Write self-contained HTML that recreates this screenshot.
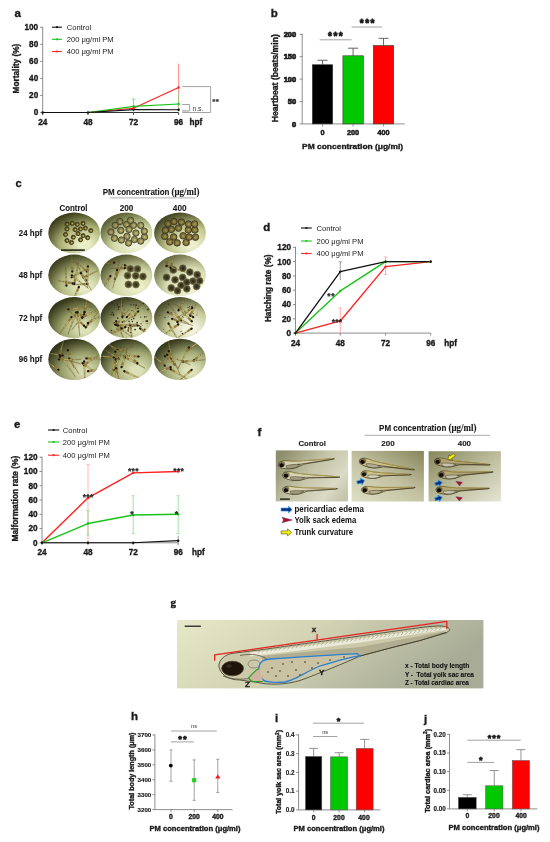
<!DOCTYPE html>
<html><head><meta charset="utf-8"><title>Figure</title>
<style>
html,body{margin:0;padding:0;background:#fff;}
body{width:550px;height:842px;overflow:hidden;}
svg{display:block;}
</style></head>
<body>
<svg width="550" height="842" viewBox="0 0 550 842">
<defs>
<radialGradient id="dg00" cx="0.66" cy="0.74" r="0.82" fx="0.7" fy="0.78"><stop offset="0" stop-color="#eaefc8"/><stop offset="0.12" stop-color="#eaefc8"/><stop offset="0.52" stop-color="#b0b678"/><stop offset="0.92" stop-color="#464a20"/></radialGradient>
<clipPath id="dc00"><ellipse cx="74.2" cy="232.9" rx="25.9" ry="20.3"/></clipPath>
<radialGradient id="dg01" cx="0.66" cy="0.74" r="0.82" fx="0.7" fy="0.78"><stop offset="0" stop-color="#eff2d4"/><stop offset="0.12" stop-color="#eff2d4"/><stop offset="0.52" stop-color="#d4daa8"/><stop offset="0.92" stop-color="#767c48"/></radialGradient>
<clipPath id="dc01"><ellipse cx="126.4" cy="232.9" rx="25.9" ry="20.3"/></clipPath>
<radialGradient id="dg02" cx="0.66" cy="0.74" r="0.82" fx="0.7" fy="0.78"><stop offset="0" stop-color="#edf0cc"/><stop offset="0.12" stop-color="#edf0cc"/><stop offset="0.52" stop-color="#c2c88e"/><stop offset="0.92" stop-color="#54582c"/></radialGradient>
<clipPath id="dc02"><ellipse cx="180.0" cy="232.9" rx="25.9" ry="20.3"/></clipPath>
<radialGradient id="dg10" cx="0.66" cy="0.74" r="0.82" fx="0.7" fy="0.78"><stop offset="0" stop-color="#e8ecc6"/><stop offset="0.12" stop-color="#e8ecc6"/><stop offset="0.52" stop-color="#b4ba80"/><stop offset="0.92" stop-color="#4a4e28"/></radialGradient>
<clipPath id="dc10"><ellipse cx="74.2" cy="275.3" rx="25.9" ry="20.7"/></clipPath>
<radialGradient id="dg11" cx="0.66" cy="0.74" r="0.82" fx="0.7" fy="0.78"><stop offset="0" stop-color="#eceec8"/><stop offset="0.12" stop-color="#eceec8"/><stop offset="0.52" stop-color="#ced4a2"/><stop offset="0.92" stop-color="#6a6e40"/></radialGradient>
<clipPath id="dc11"><ellipse cx="126.4" cy="275.3" rx="25.9" ry="20.7"/></clipPath>
<radialGradient id="dg12" cx="0.66" cy="0.74" r="0.82" fx="0.7" fy="0.78"><stop offset="0" stop-color="#f0f2d8"/><stop offset="0.12" stop-color="#f0f2d8"/><stop offset="0.52" stop-color="#dadeb4"/><stop offset="0.92" stop-color="#8a8e60"/></radialGradient>
<clipPath id="dc12"><ellipse cx="180.0" cy="275.3" rx="25.9" ry="20.7"/></clipPath>
<radialGradient id="dg20" cx="0.66" cy="0.74" r="0.82" fx="0.7" fy="0.78"><stop offset="0" stop-color="#dde2b8"/><stop offset="0.12" stop-color="#dde2b8"/><stop offset="0.52" stop-color="#9ea46c"/><stop offset="0.92" stop-color="#3a3e1e"/></radialGradient>
<clipPath id="dc20"><ellipse cx="74.2" cy="317.6" rx="25.9" ry="20.5"/></clipPath>
<radialGradient id="dg21" cx="0.66" cy="0.74" r="0.82" fx="0.7" fy="0.78"><stop offset="0" stop-color="#e0e4bc"/><stop offset="0.12" stop-color="#e0e4bc"/><stop offset="0.52" stop-color="#a8ae76"/><stop offset="0.92" stop-color="#3e4224"/></radialGradient>
<clipPath id="dc21"><ellipse cx="126.4" cy="317.6" rx="25.9" ry="20.5"/></clipPath>
<radialGradient id="dg22" cx="0.66" cy="0.74" r="0.82" fx="0.7" fy="0.78"><stop offset="0" stop-color="#f2f4e0"/><stop offset="0.12" stop-color="#f2f4e0"/><stop offset="0.52" stop-color="#c8cc9c"/><stop offset="0.92" stop-color="#5a5e38"/></radialGradient>
<clipPath id="dc22"><ellipse cx="180.0" cy="317.6" rx="25.9" ry="20.5"/></clipPath>
<radialGradient id="dg30" cx="0.66" cy="0.74" r="0.82" fx="0.7" fy="0.78"><stop offset="0" stop-color="#d6dab2"/><stop offset="0.12" stop-color="#d6dab2"/><stop offset="0.52" stop-color="#989e68"/><stop offset="0.92" stop-color="#363a1c"/></radialGradient>
<clipPath id="dc30"><ellipse cx="74.2" cy="359.4" rx="25.9" ry="20.6"/></clipPath>
<radialGradient id="dg31" cx="0.66" cy="0.74" r="0.82" fx="0.7" fy="0.78"><stop offset="0" stop-color="#dce0b8"/><stop offset="0.12" stop-color="#dce0b8"/><stop offset="0.52" stop-color="#a2a872"/><stop offset="0.92" stop-color="#3a3e20"/></radialGradient>
<clipPath id="dc31"><ellipse cx="126.4" cy="359.4" rx="25.9" ry="20.6"/></clipPath>
<radialGradient id="dg32" cx="0.66" cy="0.74" r="0.82" fx="0.7" fy="0.78"><stop offset="0" stop-color="#dee2ba"/><stop offset="0.12" stop-color="#dee2ba"/><stop offset="0.52" stop-color="#a6ac78"/><stop offset="0.92" stop-color="#3e4224"/></radialGradient>
<clipPath id="dc32"><ellipse cx="180.0" cy="359.4" rx="25.9" ry="20.6"/></clipPath>
<linearGradient id="dshade" x1="0.05" y1="0.05" x2="0.75" y2="0.85"><stop offset="0" stop-color="#282810" stop-opacity="0.45"/><stop offset="0.45" stop-color="#282810" stop-opacity="0.08"/><stop offset="0.6" stop-color="#282810" stop-opacity="0"/></linearGradient>
<linearGradient id="fg0" x1="0" y1="0.2" x2="1" y2="0.8"><stop offset="0" stop-color="#8e8e6c"/><stop offset="0.45" stop-color="#c4c4a8"/><stop offset="0.8" stop-color="#dadac6"/><stop offset="1" stop-color="#c6c6ae"/></linearGradient>
<linearGradient id="fg1" x1="0.1" y1="1" x2="0.9" y2="0"><stop offset="0" stop-color="#dcdcc2"/><stop offset="0.5" stop-color="#c2c2a2"/><stop offset="1" stop-color="#8c8a62"/></linearGradient>
<linearGradient id="fg2" x1="0" y1="0" x2="1" y2="1"><stop offset="0" stop-color="#86865c"/><stop offset="0.5" stop-color="#bcbc9c"/><stop offset="1" stop-color="#e4e4d4"/></linearGradient>
<linearGradient id="gg" x1="0" y1="0" x2="1" y2="0.3"><stop offset="0" stop-color="#e6e8c8"/><stop offset="0.45" stop-color="#d2d4b4"/><stop offset="1" stop-color="#a8ac96"/></linearGradient>
</defs>
<text x="14.40" y="16.90" style="font-family:'Liberation Sans',Arial,sans-serif;font-size:11.5px;font-weight:bold" text-anchor="start" fill="#1a1a1a" stroke="#1a1a1a" stroke-width="0.35" >a</text>
<line x1="42.70" y1="26.80" x2="42.70" y2="112.50" stroke="#808080" stroke-width="0.9" />
<line x1="42.70" y1="112.50" x2="178.60" y2="112.50" stroke="#333" stroke-width="1.0" />
<line x1="40.20" y1="112.50" x2="42.70" y2="112.50" stroke="#808080" stroke-width="0.9" />
<text x="38.20" y="115.40" style="font-family:'Liberation Sans',Arial,sans-serif;font-size:8.2px;font-weight:bold" text-anchor="end" fill="#1a1a1a" stroke="#1a1a1a" stroke-width="0.35" >0</text>
<line x1="40.20" y1="95.46" x2="42.70" y2="95.46" stroke="#808080" stroke-width="0.9" />
<text x="38.20" y="98.36" style="font-family:'Liberation Sans',Arial,sans-serif;font-size:8.2px;font-weight:bold" text-anchor="end" fill="#1a1a1a" stroke="#1a1a1a" stroke-width="0.35" >20</text>
<line x1="40.20" y1="78.42" x2="42.70" y2="78.42" stroke="#808080" stroke-width="0.9" />
<text x="38.20" y="81.32" style="font-family:'Liberation Sans',Arial,sans-serif;font-size:8.2px;font-weight:bold" text-anchor="end" fill="#1a1a1a" stroke="#1a1a1a" stroke-width="0.35" >40</text>
<line x1="40.20" y1="61.38" x2="42.70" y2="61.38" stroke="#808080" stroke-width="0.9" />
<text x="38.20" y="64.28" style="font-family:'Liberation Sans',Arial,sans-serif;font-size:8.2px;font-weight:bold" text-anchor="end" fill="#1a1a1a" stroke="#1a1a1a" stroke-width="0.35" >60</text>
<line x1="40.20" y1="44.34" x2="42.70" y2="44.34" stroke="#808080" stroke-width="0.9" />
<text x="38.20" y="47.24" style="font-family:'Liberation Sans',Arial,sans-serif;font-size:8.2px;font-weight:bold" text-anchor="end" fill="#1a1a1a" stroke="#1a1a1a" stroke-width="0.35" >80</text>
<line x1="40.20" y1="27.30" x2="42.70" y2="27.30" stroke="#808080" stroke-width="0.9" />
<text x="38.20" y="30.20" style="font-family:'Liberation Sans',Arial,sans-serif;font-size:8.2px;font-weight:bold" text-anchor="end" fill="#1a1a1a" stroke="#1a1a1a" stroke-width="0.35" >100</text>
<line x1="42.70" y1="112.50" x2="42.70" y2="115.00" stroke="#333" stroke-width="0.9" />
<text x="42.70" y="124.60" style="font-family:'Liberation Sans',Arial,sans-serif;font-size:8.2px;font-weight:bold" text-anchor="middle" fill="#1a1a1a" stroke="#1a1a1a" stroke-width="0.35" >24</text>
<line x1="88.00" y1="112.50" x2="88.00" y2="115.00" stroke="#333" stroke-width="0.9" />
<text x="88.00" y="124.60" style="font-family:'Liberation Sans',Arial,sans-serif;font-size:8.2px;font-weight:bold" text-anchor="middle" fill="#1a1a1a" stroke="#1a1a1a" stroke-width="0.35" >48</text>
<line x1="133.50" y1="112.50" x2="133.50" y2="115.00" stroke="#333" stroke-width="0.9" />
<text x="133.50" y="124.60" style="font-family:'Liberation Sans',Arial,sans-serif;font-size:8.2px;font-weight:bold" text-anchor="middle" fill="#1a1a1a" stroke="#1a1a1a" stroke-width="0.35" >72</text>
<line x1="178.60" y1="112.50" x2="178.60" y2="115.00" stroke="#333" stroke-width="0.9" />
<text x="178.60" y="124.60" style="font-family:'Liberation Sans',Arial,sans-serif;font-size:8.2px;font-weight:bold" text-anchor="middle" fill="#1a1a1a" stroke="#1a1a1a" stroke-width="0.35" >96</text>
<text x="189.50" y="124.60" style="font-family:'Liberation Sans',Arial,sans-serif;font-size:8.2px;font-weight:bold" text-anchor="start" fill="#1a1a1a" stroke="#1a1a1a" stroke-width="0.35" >hpf</text>
<text x="18.79" y="68.60" transform="rotate(-90 18.79 68.60)" style="font-family:'Liberation Sans',Arial,sans-serif;font-size:8.3px;font-weight:bold" text-anchor="middle" fill="#1a1a1a" stroke="#1a1a1a" stroke-width="0.35">Mortality (%)</text>
<line x1="52.00" y1="27.20" x2="62.00" y2="27.20" stroke="#111" stroke-width="1.1" />
<circle cx="57" cy="27.2" r="1.1" fill="#111"/>
<text x="66.70" y="29.90" style="font-family:'Liberation Sans',Arial,sans-serif;font-size:7.6px;font-weight:normal" text-anchor="start" fill="#222" >Control</text>
<line x1="52.00" y1="39.30" x2="62.00" y2="39.30" stroke="#1cc41c" stroke-width="1.1" />
<circle cx="57" cy="39.3" r="1.1" fill="#1cc41c"/>
<text x="66.70" y="42.00" style="font-family:'Liberation Sans',Arial,sans-serif;font-size:7.6px;font-weight:normal" text-anchor="start" fill="#222" >200 &#956;g/ml PM</text>
<line x1="52.00" y1="51.50" x2="62.00" y2="51.50" stroke="#ff2a2a" stroke-width="1.1" />
<circle cx="57" cy="51.5" r="1.1" fill="#ff2a2a"/>
<text x="66.70" y="54.20" style="font-family:'Liberation Sans',Arial,sans-serif;font-size:7.6px;font-weight:normal" text-anchor="start" fill="#222" >400 &#956;g/ml PM</text>
<line x1="178.60" y1="63.60" x2="178.60" y2="111.00" stroke="#ff5a5a" stroke-width="0.7" />
<line x1="178.60" y1="93.00" x2="178.60" y2="112.00" stroke="#7bd67b" stroke-width="0.7" />
<line x1="133.50" y1="99.00" x2="133.50" y2="112.50" stroke="#5cc75c" stroke-width="0.7" />
<line x1="131.50" y1="99.00" x2="135.50" y2="99.00" stroke="#5cc75c" stroke-width="0.6" />
<polyline points="42.70,112.50 88.00,112.50 133.50,108.20 178.60,87.40" fill="none" stroke="#ff2020" stroke-width="1.1" stroke-linejoin="round"/>
<polyline points="42.70,112.50 88.00,112.50 133.50,106.40 178.60,104.00" fill="none" stroke="#18c418" stroke-width="1.2" stroke-linejoin="round"/>
<polyline points="42.70,112.50 88.00,112.50 133.50,109.60 178.60,109.80" fill="none" stroke="#111" stroke-width="1.1" stroke-linejoin="round"/>
<circle cx="42.7" cy="112.5" r="1.2" fill="#111"/>
<circle cx="88" cy="112.5" r="1.2" fill="#111"/>
<circle cx="133.5" cy="109.6" r="1.2" fill="#111"/>
<circle cx="178.6" cy="109.8" r="1.2" fill="#111"/>
<circle cx="133.5" cy="106.4" r="1.2" fill="#18c418"/>
<circle cx="178.6" cy="104" r="1.2" fill="#18c418"/>
<circle cx="178.6" cy="87.4" r="1.2" fill="#ff2020"/>
<circle cx="133.5" cy="108.2" r="1.2" fill="#ff2020"/>
<polyline points="182.20,86.60 210.60,86.60 210.60,112.50 182.20,112.50" fill="none" stroke="#9a9a9a" stroke-width="0.9" stroke-linejoin="round"/>
<polyline points="182.20,104.50 189.60,104.50 189.60,110.90 182.20,110.90" fill="none" stroke="#9a9a9a" stroke-width="0.9" stroke-linejoin="round"/>
<rect x="182.20" y="109.80" width="6.50" height="2.20" fill="#c8c8c8" stroke="none" stroke-width="0" />
<text x="212.14" y="104.08" style="font-family:'Liberation Sans',Arial,sans-serif;font-size:8.0px;font-weight:bold;letter-spacing:0.49px" fill="#2a2a2a" stroke="#2a2a2a" stroke-width="0.2" stroke-linejoin="round">**</text>
<text x="192.60" y="111.00" style="font-family:'Liberation Sans',Arial,sans-serif;font-size:6.6px;font-weight:normal" text-anchor="start" fill="#333" >n.s.</text>
<text x="270.80" y="16.90" style="font-family:'Liberation Sans',Arial,sans-serif;font-size:11.5px;font-weight:bold" text-anchor="start" fill="#1a1a1a" stroke="#1a1a1a" stroke-width="0.35" >b</text>
<line x1="302.20" y1="33.80" x2="302.20" y2="123.90" stroke="#808080" stroke-width="0.9" />
<line x1="302.20" y1="123.90" x2="404.60" y2="123.90" stroke="#808080" stroke-width="0.9" />
<line x1="299.70" y1="123.90" x2="302.20" y2="123.90" stroke="#808080" stroke-width="0.9" />
<text x="296.20" y="126.60" style="font-family:'Liberation Sans',Arial,sans-serif;font-size:7.5px;font-weight:bold" text-anchor="end" fill="#1a1a1a" stroke="#1a1a1a" stroke-width="0.7" >0</text>
<line x1="299.70" y1="101.50" x2="302.20" y2="101.50" stroke="#808080" stroke-width="0.9" />
<text x="296.20" y="104.20" style="font-family:'Liberation Sans',Arial,sans-serif;font-size:7.5px;font-weight:bold" text-anchor="end" fill="#1a1a1a" stroke="#1a1a1a" stroke-width="0.7" >50</text>
<line x1="299.70" y1="79.10" x2="302.20" y2="79.10" stroke="#808080" stroke-width="0.9" />
<text x="296.20" y="81.80" style="font-family:'Liberation Sans',Arial,sans-serif;font-size:7.5px;font-weight:bold" text-anchor="end" fill="#1a1a1a" stroke="#1a1a1a" stroke-width="0.7" >100</text>
<line x1="299.70" y1="56.70" x2="302.20" y2="56.70" stroke="#808080" stroke-width="0.9" />
<text x="296.20" y="59.40" style="font-family:'Liberation Sans',Arial,sans-serif;font-size:7.5px;font-weight:bold" text-anchor="end" fill="#1a1a1a" stroke="#1a1a1a" stroke-width="0.7" >150</text>
<line x1="299.70" y1="34.30" x2="302.20" y2="34.30" stroke="#808080" stroke-width="0.9" />
<text x="296.20" y="37.00" style="font-family:'Liberation Sans',Arial,sans-serif;font-size:7.5px;font-weight:bold" text-anchor="end" fill="#1a1a1a" stroke="#1a1a1a" stroke-width="0.7" >200</text>
<line x1="322.55" y1="64.76" x2="322.55" y2="60.28" stroke="#555" stroke-width="0.9" />
<line x1="317.55" y1="60.28" x2="327.55" y2="60.28" stroke="#555" stroke-width="0.9" />
<rect x="312.40" y="64.76" width="20.30" height="59.14" fill="#000" stroke="#333" stroke-width="0.6" />
<line x1="322.55" y1="123.90" x2="322.55" y2="126.40" stroke="#808080" stroke-width="0.9" />
<line x1="353.10" y1="55.80" x2="353.10" y2="48.19" stroke="#555" stroke-width="0.9" />
<line x1="348.10" y1="48.19" x2="358.10" y2="48.19" stroke="#555" stroke-width="0.9" />
<rect x="342.90" y="55.80" width="20.40" height="68.10" fill="#00c800" stroke="#333" stroke-width="0.6" />
<line x1="353.10" y1="123.90" x2="353.10" y2="126.40" stroke="#808080" stroke-width="0.9" />
<line x1="383.55" y1="45.50" x2="383.55" y2="38.33" stroke="#555" stroke-width="0.9" />
<line x1="378.55" y1="38.33" x2="388.55" y2="38.33" stroke="#555" stroke-width="0.9" />
<rect x="373.40" y="45.50" width="20.30" height="78.40" fill="#ff0000" stroke="#333" stroke-width="0.6" />
<line x1="383.55" y1="123.90" x2="383.55" y2="126.40" stroke="#808080" stroke-width="0.9" />
<text x="322.50" y="134.80" style="font-family:'Liberation Sans',Arial,sans-serif;font-size:7.3px;font-weight:bold" text-anchor="middle" fill="#1a1a1a" stroke="#1a1a1a" stroke-width="0.5" >0</text>
<text x="353.00" y="134.80" style="font-family:'Liberation Sans',Arial,sans-serif;font-size:7.3px;font-weight:bold" text-anchor="middle" fill="#1a1a1a" stroke="#1a1a1a" stroke-width="0.5" >200</text>
<text x="383.50" y="134.80" style="font-family:'Liberation Sans',Arial,sans-serif;font-size:7.3px;font-weight:bold" text-anchor="middle" fill="#1a1a1a" stroke="#1a1a1a" stroke-width="0.5" >400</text>
<text x="352.60" y="148.80" style="font-family:'Liberation Sans',Arial,sans-serif;font-size:7.6px;font-weight:bold" text-anchor="middle" fill="#1a1a1a" stroke="#1a1a1a" stroke-width="0.35" textLength="101" lengthAdjust="spacingAndGlyphs" >PM concentration (&#956;g/ml)</text>
<text x="278.32" y="78.20" transform="rotate(-90 278.32 78.20)" style="font-family:'Liberation Sans',Arial,sans-serif;font-size:8.4px;font-weight:bold" text-anchor="middle" fill="#1a1a1a" stroke="#1a1a1a" stroke-width="0.35" textLength="88" lengthAdjust="spacingAndGlyphs">Heartbeat (beats/min)</text>
<line x1="319.60" y1="39.80" x2="351.60" y2="39.80" stroke="#999" stroke-width="0.9" />
<line x1="351.60" y1="27.00" x2="382.10" y2="27.00" stroke="#999" stroke-width="0.9" />
<text x="328.05" y="39.70" style="font-family:'Liberation Sans',Arial,sans-serif;font-size:10px;font-weight:bold;letter-spacing:1.51px" fill="#1a1a1a" stroke="#1a1a1a" stroke-width="0.8" stroke-linejoin="round">***</text>
<text x="359.75" y="27.10" style="font-family:'Liberation Sans',Arial,sans-serif;font-size:10px;font-weight:bold;letter-spacing:1.51px" fill="#1a1a1a" stroke="#1a1a1a" stroke-width="0.8" stroke-linejoin="round">***</text>
<text x="15.50" y="187.20" style="font-family:'Liberation Sans',Arial,sans-serif;font-size:11px;font-weight:bold" text-anchor="start" fill="#1a1a1a" stroke="#1a1a1a" stroke-width="0.35" >c</text>
<text x="151.00" y="195.10" style="font-family:'Liberation Sans',Arial,sans-serif;font-size:8.6px;font-weight:bold" text-anchor="middle" fill="#1a1a1a" stroke="#1a1a1a" stroke-width="0.12" textLength="96.7" lengthAdjust="spacingAndGlyphs" >PM concentration <tspan style="font-family:'Liberation Serif',serif;font-size:9.6px">(&#956;g/ml)</tspan></text>
<line x1="109.80" y1="197.90" x2="195.40" y2="197.90" stroke="#999" stroke-width="0.8" />
<text x="73.50" y="211.00" style="font-family:'Liberation Sans',Arial,sans-serif;font-size:8.2px;font-weight:bold" text-anchor="middle" fill="#1a1a1a" stroke="#1a1a1a" stroke-width="0.12" textLength="27.8" lengthAdjust="spacingAndGlyphs" >Control</text>
<text x="126.60" y="211.00" style="font-family:'Liberation Sans',Arial,sans-serif;font-size:8.2px;font-weight:bold" text-anchor="middle" fill="#1a1a1a" stroke="#1a1a1a" stroke-width="0.12" >200</text>
<text x="179.70" y="211.00" style="font-family:'Liberation Sans',Arial,sans-serif;font-size:8.2px;font-weight:bold" text-anchor="middle" fill="#1a1a1a" stroke="#1a1a1a" stroke-width="0.12" >400</text>
<text x="18.80" y="235.80" style="font-family:'Liberation Sans',Arial,sans-serif;font-size:8.2px;font-weight:bold" text-anchor="start" fill="#1a1a1a" stroke="#1a1a1a" stroke-width="0.12" textLength="23.4" lengthAdjust="spacingAndGlyphs" >24 hpf</text>
<ellipse cx="74.2" cy="232.9" rx="25.9" ry="20.3" fill="url(#dg00)"/>
<g clip-path="url(#dc00)">
<circle cx="65.5" cy="234.5" r="2.1" fill="#5e5626" stroke="#36300f" stroke-width="0.8"/>
<circle cx="65.8" cy="234.7" r="0.9" fill="#c8b850"/>
<circle cx="85.3" cy="228.1" r="2.1" fill="#5e5626" stroke="#36300f" stroke-width="0.8"/>
<circle cx="85.6" cy="228.3" r="0.9" fill="#c8b850"/>
<circle cx="80.5" cy="239.8" r="2.1" fill="#5e5626" stroke="#36300f" stroke-width="0.8"/>
<circle cx="80.8" cy="240.0" r="0.9" fill="#c8b850"/>
<circle cx="67.0" cy="224.1" r="2.1" fill="#5e5626" stroke="#36300f" stroke-width="0.8"/>
<circle cx="67.3" cy="224.3" r="0.9" fill="#c8b850"/>
<circle cx="83.1" cy="235.6" r="2.1" fill="#5e5626" stroke="#36300f" stroke-width="0.8"/>
<circle cx="83.4" cy="235.8" r="0.9" fill="#c8b850"/>
<circle cx="87.6" cy="237.7" r="2.1" fill="#5e5626" stroke="#36300f" stroke-width="0.8"/>
<circle cx="87.9" cy="237.9" r="0.9" fill="#c8b850"/>
<circle cx="75.1" cy="229.6" r="2.1" fill="#5e5626" stroke="#36300f" stroke-width="0.8"/>
<circle cx="75.4" cy="229.8" r="0.9" fill="#c8b850"/>
<circle cx="90.8" cy="230.6" r="2.1" fill="#5e5626" stroke="#36300f" stroke-width="0.8"/>
<circle cx="91.1" cy="230.8" r="0.9" fill="#c8b850"/>
<circle cx="83.0" cy="223.4" r="2.1" fill="#5e5626" stroke="#36300f" stroke-width="0.8"/>
<circle cx="83.3" cy="223.6" r="0.9" fill="#c8b850"/>
<circle cx="73.3" cy="237.2" r="2.1" fill="#5e5626" stroke="#36300f" stroke-width="0.8"/>
<circle cx="73.6" cy="237.4" r="0.9" fill="#c8b850"/>
<circle cx="77.2" cy="224.3" r="2.1" fill="#5e5626" stroke="#36300f" stroke-width="0.8"/>
<circle cx="77.5" cy="224.5" r="0.9" fill="#c8b850"/>
<circle cx="66.9" cy="229.0" r="2.1" fill="#5e5626" stroke="#36300f" stroke-width="0.8"/>
<circle cx="67.2" cy="229.2" r="0.9" fill="#c8b850"/>
<circle cx="71.5" cy="242.5" r="2.1" fill="#5e5626" stroke="#36300f" stroke-width="0.8"/>
<circle cx="71.8" cy="242.7" r="0.9" fill="#c8b850"/>
<circle cx="67.0" cy="240.5" r="2.1" fill="#5e5626" stroke="#36300f" stroke-width="0.8"/>
<circle cx="67.3" cy="240.7" r="0.9" fill="#c8b850"/>
<circle cx="72.1" cy="223.3" r="2.1" fill="#5e5626" stroke="#36300f" stroke-width="0.8"/>
<circle cx="72.4" cy="223.5" r="0.9" fill="#c8b850"/>
<circle cx="78.0" cy="233.6" r="2.1" fill="#5e5626" stroke="#36300f" stroke-width="0.8"/>
<circle cx="78.3" cy="233.8" r="0.9" fill="#c8b850"/>
<circle cx="80.4" cy="229.0" r="2.1" fill="#5e5626" stroke="#36300f" stroke-width="0.8"/>
<circle cx="80.7" cy="229.2" r="0.9" fill="#c8b850"/>
<ellipse cx="74.2" cy="232.9" rx="25.9" ry="20.3" fill="url(#dshade)"/>
</g>
<ellipse cx="126.4" cy="232.9" rx="25.9" ry="20.3" fill="url(#dg01)"/>
<g clip-path="url(#dc01)">
<circle cx="128.5" cy="243.0" r="3.2" fill="#908c5c" stroke="#3e3c22" stroke-width="0.8"/>
<circle cx="128.8" cy="243.2" r="1.3" fill="#c0b468"/>
<circle cx="127.0" cy="236.3" r="3.2" fill="#908c5c" stroke="#3e3c22" stroke-width="0.8"/>
<circle cx="127.3" cy="236.5" r="1.3" fill="#c0b468"/>
<circle cx="133.5" cy="225.3" r="3.2" fill="#908c5c" stroke="#3e3c22" stroke-width="0.8"/>
<circle cx="133.8" cy="225.5" r="1.3" fill="#c0b468"/>
<circle cx="114.5" cy="238.3" r="3.2" fill="#908c5c" stroke="#3e3c22" stroke-width="0.8"/>
<circle cx="114.8" cy="238.5" r="1.3" fill="#c0b468"/>
<circle cx="135.9" cy="233.0" r="3.2" fill="#908c5c" stroke="#3e3c22" stroke-width="0.8"/>
<circle cx="136.2" cy="233.2" r="1.3" fill="#c0b468"/>
<circle cx="119.9" cy="221.5" r="3.2" fill="#908c5c" stroke="#3e3c22" stroke-width="0.8"/>
<circle cx="120.2" cy="221.7" r="1.3" fill="#c0b468"/>
<circle cx="110.9" cy="232.0" r="3.2" fill="#908c5c" stroke="#3e3c22" stroke-width="0.8"/>
<circle cx="111.2" cy="232.2" r="1.3" fill="#c0b468"/>
<circle cx="120.8" cy="230.4" r="3.2" fill="#908c5c" stroke="#3e3c22" stroke-width="0.8"/>
<circle cx="121.1" cy="230.6" r="1.3" fill="#c0b468"/>
<circle cx="144.5" cy="237.0" r="3.2" fill="#908c5c" stroke="#3e3c22" stroke-width="0.8"/>
<circle cx="144.8" cy="237.2" r="1.3" fill="#c0b468"/>
<circle cx="121.4" cy="240.0" r="3.2" fill="#908c5c" stroke="#3e3c22" stroke-width="0.8"/>
<circle cx="121.7" cy="240.2" r="1.3" fill="#c0b468"/>
<circle cx="126.6" cy="224.5" r="3.2" fill="#908c5c" stroke="#3e3c22" stroke-width="0.8"/>
<circle cx="126.9" cy="224.7" r="1.3" fill="#c0b468"/>
<circle cx="140.7" cy="225.4" r="3.2" fill="#908c5c" stroke="#3e3c22" stroke-width="0.8"/>
<circle cx="141.0" cy="225.6" r="1.3" fill="#c0b468"/>
<circle cx="144.3" cy="231.2" r="3.2" fill="#908c5c" stroke="#3e3c22" stroke-width="0.8"/>
<circle cx="144.6" cy="231.4" r="1.3" fill="#c0b468"/>
<circle cx="115.2" cy="225.3" r="3.2" fill="#908c5c" stroke="#3e3c22" stroke-width="0.8"/>
<circle cx="115.5" cy="225.5" r="1.3" fill="#c0b468"/>
<circle cx="134.4" cy="239.6" r="3.2" fill="#908c5c" stroke="#3e3c22" stroke-width="0.8"/>
<circle cx="134.7" cy="239.8" r="1.3" fill="#c0b468"/>
<circle cx="129.0" cy="229.4" r="3.2" fill="#908c5c" stroke="#3e3c22" stroke-width="0.8"/>
<circle cx="129.3" cy="229.6" r="1.3" fill="#c0b468"/>
<circle cx="140.7" cy="241.1" r="3.2" fill="#908c5c" stroke="#3e3c22" stroke-width="0.8"/>
<circle cx="141.0" cy="241.3" r="1.3" fill="#c0b468"/>
<circle cx="130.5" cy="220.4" r="3.2" fill="#908c5c" stroke="#3e3c22" stroke-width="0.8"/>
<circle cx="130.8" cy="220.6" r="1.3" fill="#c0b468"/>
<ellipse cx="126.4" cy="232.9" rx="25.9" ry="20.3" fill="url(#dshade)"/>
</g>
<ellipse cx="180.0" cy="232.9" rx="25.9" ry="20.3" fill="url(#dg02)"/>
<g clip-path="url(#dc02)">
<circle cx="181.4" cy="222.1" r="3.3" fill="#7a7040" stroke="#3a3016" stroke-width="0.8"/>
<circle cx="181.7" cy="222.3" r="1.4" fill="#a89440"/>
<circle cx="194.8" cy="229.9" r="3.3" fill="#7a7040" stroke="#3a3016" stroke-width="0.8"/>
<circle cx="195.1" cy="230.1" r="1.4" fill="#a89440"/>
<circle cx="186.1" cy="242.5" r="3.3" fill="#7a7040" stroke="#3a3016" stroke-width="0.8"/>
<circle cx="186.4" cy="242.7" r="1.4" fill="#a89440"/>
<circle cx="195.4" cy="237.2" r="3.3" fill="#7a7040" stroke="#3a3016" stroke-width="0.8"/>
<circle cx="195.7" cy="237.4" r="1.4" fill="#a89440"/>
<circle cx="173.7" cy="237.0" r="3.3" fill="#7a7040" stroke="#3a3016" stroke-width="0.8"/>
<circle cx="174.0" cy="237.2" r="1.4" fill="#a89440"/>
<circle cx="171.3" cy="229.4" r="3.3" fill="#7a7040" stroke="#3a3016" stroke-width="0.8"/>
<circle cx="171.6" cy="229.6" r="1.4" fill="#a89440"/>
<circle cx="183.1" cy="235.8" r="3.3" fill="#7a7040" stroke="#3a3016" stroke-width="0.8"/>
<circle cx="183.4" cy="236.0" r="1.4" fill="#a89440"/>
<circle cx="168.0" cy="223.7" r="3.3" fill="#7a7040" stroke="#3a3016" stroke-width="0.8"/>
<circle cx="168.3" cy="223.9" r="1.4" fill="#a89440"/>
<circle cx="188.3" cy="229.9" r="3.3" fill="#7a7040" stroke="#3a3016" stroke-width="0.8"/>
<circle cx="188.6" cy="230.1" r="1.4" fill="#a89440"/>
<circle cx="165.4" cy="230.3" r="3.3" fill="#7a7040" stroke="#3a3016" stroke-width="0.8"/>
<circle cx="165.7" cy="230.5" r="1.4" fill="#a89440"/>
<circle cx="177.1" cy="242.9" r="3.3" fill="#7a7040" stroke="#3a3016" stroke-width="0.8"/>
<circle cx="177.4" cy="243.1" r="1.4" fill="#a89440"/>
<circle cx="188.5" cy="224.1" r="3.3" fill="#7a7040" stroke="#3a3016" stroke-width="0.8"/>
<circle cx="188.8" cy="224.3" r="1.4" fill="#a89440"/>
<circle cx="178.5" cy="228.1" r="3.3" fill="#7a7040" stroke="#3a3016" stroke-width="0.8"/>
<circle cx="178.8" cy="228.3" r="1.4" fill="#a89440"/>
<circle cx="194.6" cy="224.0" r="3.3" fill="#7a7040" stroke="#3a3016" stroke-width="0.8"/>
<circle cx="194.9" cy="224.2" r="1.4" fill="#a89440"/>
<circle cx="164.8" cy="236.4" r="3.3" fill="#7a7040" stroke="#3a3016" stroke-width="0.8"/>
<circle cx="165.1" cy="236.6" r="1.4" fill="#a89440"/>
<circle cx="173.9" cy="221.5" r="3.3" fill="#7a7040" stroke="#3a3016" stroke-width="0.8"/>
<circle cx="174.2" cy="221.7" r="1.4" fill="#a89440"/>
<circle cx="169.8" cy="241.9" r="3.3" fill="#7a7040" stroke="#3a3016" stroke-width="0.8"/>
<circle cx="170.1" cy="242.1" r="1.4" fill="#a89440"/>
<circle cx="189.1" cy="237.1" r="3.3" fill="#7a7040" stroke="#3a3016" stroke-width="0.8"/>
<circle cx="189.4" cy="237.3" r="1.4" fill="#a89440"/>
<circle cx="187.9" cy="241.9" r="0.4" fill="#5a5040"/>
<circle cx="195.5" cy="229.5" r="0.3" fill="#5a5040"/>
<circle cx="188.3" cy="244.3" r="0.4" fill="#5a5040"/>
<circle cx="198.3" cy="231.6" r="0.4" fill="#5a5040"/>
<circle cx="194.5" cy="236.4" r="0.4" fill="#5a5040"/>
<circle cx="188.9" cy="243.1" r="0.4" fill="#5a5040"/>
<circle cx="189.8" cy="244.2" r="0.4" fill="#5a5040"/>
<circle cx="189.4" cy="232.9" r="0.5" fill="#5a5040"/>
<circle cx="195.6" cy="239.0" r="0.3" fill="#5a5040"/>
<circle cx="187.6" cy="243.8" r="0.4" fill="#5a5040"/>
<ellipse cx="180.0" cy="232.9" rx="25.9" ry="20.3" fill="url(#dshade)"/>
</g>
<text x="18.80" y="278.20" style="font-family:'Liberation Sans',Arial,sans-serif;font-size:8.2px;font-weight:bold" text-anchor="start" fill="#1a1a1a" stroke="#1a1a1a" stroke-width="0.12" textLength="23.4" lengthAdjust="spacingAndGlyphs" >48 hpf</text>
<ellipse cx="74.2" cy="275.3" rx="25.9" ry="20.7" fill="url(#dg10)"/>
<g clip-path="url(#dc10)">
<path d="M84.1,278.3 L97.9,270.6 L83.2,276.6 Z" fill="#dccf88" stroke="#5a4818" stroke-width="0.35" opacity="0.85"/>
<ellipse cx="86.6" cy="276.0" rx="1.9" ry="1.0" transform="rotate(334 86.6 276.0)" fill="#8a7430" opacity="0.9"/>
<circle cx="90.1" cy="274.4" r="0.45" fill="#4a3a18"/>
<circle cx="92.5" cy="273.2" r="0.45" fill="#4a3a18"/>
<ellipse cx="83.6" cy="277.5" rx="1.35" ry="1.1" transform="rotate(334 83.6 277.5)" fill="#1e160a"/>
<path d="M72.2,277.9 L87.3,268.8 L71.4,276.2 Z" fill="#dccf88" stroke="#5a4818" stroke-width="0.35" opacity="0.85"/>
<ellipse cx="74.7" cy="275.5" rx="1.9" ry="1.0" transform="rotate(332 74.7 275.5)" fill="#8a7430" opacity="0.9"/>
<circle cx="78.8" cy="273.4" r="0.45" fill="#4a3a18"/>
<circle cx="81.4" cy="272.0" r="0.45" fill="#4a3a18"/>
<ellipse cx="71.8" cy="277.1" rx="1.35" ry="1.1" transform="rotate(332 71.8 277.1)" fill="#1e160a"/>
<path d="M71.2,276.2 L88.6,288.4 L72.3,274.7 Z" fill="#dccf88" stroke="#5a4818" stroke-width="0.35" opacity="0.85"/>
<ellipse cx="74.4" cy="277.4" rx="1.9" ry="1.0" transform="rotate(38 74.4 277.4)" fill="#8a7430" opacity="0.9"/>
<circle cx="79.3" cy="281.3" r="0.45" fill="#4a3a18"/>
<circle cx="82.2" cy="283.5" r="0.45" fill="#4a3a18"/>
<ellipse cx="71.8" cy="275.4" rx="1.35" ry="1.1" transform="rotate(38 71.8 275.4)" fill="#1e160a"/>
<path d="M87.2,283.0 L72.2,284.8 L87.3,284.9 Z" fill="#dccf88" stroke="#5a4818" stroke-width="0.35" opacity="0.85"/>
<ellipse cx="83.9" cy="284.1" rx="1.9" ry="1.0" transform="rotate(177 83.9 284.1)" fill="#8a7430" opacity="0.9"/>
<circle cx="80.5" cy="284.3" r="0.45" fill="#4a3a18"/>
<circle cx="77.9" cy="284.4" r="0.45" fill="#4a3a18"/>
<ellipse cx="87.2" cy="283.9" rx="1.35" ry="1.1" transform="rotate(177 87.2 283.9)" fill="#1e160a"/>
<path d="M77.9,286.7 L72.4,301.8 L79.7,287.5 Z" fill="#dccf88" stroke="#5a4818" stroke-width="0.35" opacity="0.85"/>
<ellipse cx="77.5" cy="290.1" rx="1.9" ry="1.0" transform="rotate(114 77.5 290.1)" fill="#8a7430" opacity="0.9"/>
<circle cx="75.9" cy="293.7" r="0.45" fill="#4a3a18"/>
<circle cx="74.8" cy="296.2" r="0.45" fill="#4a3a18"/>
<ellipse cx="78.8" cy="287.1" rx="1.35" ry="1.1" transform="rotate(114 78.8 287.1)" fill="#1e160a"/>
<path d="M86.6,279.8 L75.3,261.6 L84.9,280.7 Z" fill="#dccf88" stroke="#5a4818" stroke-width="0.35" opacity="0.85"/>
<ellipse cx="84.1" cy="277.4" rx="1.9" ry="1.0" transform="rotate(241 84.1 277.4)" fill="#8a7430" opacity="0.9"/>
<circle cx="81.1" cy="271.9" r="0.45" fill="#4a3a18"/>
<circle cx="79.3" cy="268.7" r="0.45" fill="#4a3a18"/>
<ellipse cx="85.8" cy="280.3" rx="1.35" ry="1.1" transform="rotate(241 85.8 280.3)" fill="#1e160a"/>
<path d="M73.3,271.5 L71.7,252.1 L71.4,271.5 Z" fill="#dccf88" stroke="#5a4818" stroke-width="0.35" opacity="0.85"/>
<ellipse cx="72.2" cy="268.2" rx="1.9" ry="1.0" transform="rotate(268 72.2 268.2)" fill="#8a7430" opacity="0.9"/>
<circle cx="72.1" cy="262.8" r="0.45" fill="#4a3a18"/>
<circle cx="72.0" cy="259.5" r="0.45" fill="#4a3a18"/>
<ellipse cx="72.3" cy="271.5" rx="1.35" ry="1.1" transform="rotate(268 72.3 271.5)" fill="#1e160a"/>
<path d="M87.7,270.9 L76.4,262.4 L86.4,272.3 Z" fill="#dccf88" stroke="#5a4818" stroke-width="0.35" opacity="0.85"/>
<ellipse cx="84.6" cy="269.5" rx="1.9" ry="1.0" transform="rotate(221 84.6 269.5)" fill="#8a7430" opacity="0.9"/>
<circle cx="82.3" cy="267.5" r="0.45" fill="#4a3a18"/>
<circle cx="80.5" cy="265.9" r="0.45" fill="#4a3a18"/>
<ellipse cx="87.1" cy="271.6" rx="1.35" ry="1.1" transform="rotate(221 87.1 271.6)" fill="#1e160a"/>
<path d="M67.3,285.5 L65.6,266.6 L65.4,285.6 Z" fill="#dccf88" stroke="#5a4818" stroke-width="0.35" opacity="0.85"/>
<ellipse cx="66.3" cy="282.3" rx="1.9" ry="1.0" transform="rotate(268 66.3 282.3)" fill="#8a7430" opacity="0.9"/>
<circle cx="66.1" cy="277.0" r="0.45" fill="#4a3a18"/>
<circle cx="65.9" cy="273.8" r="0.45" fill="#4a3a18"/>
<ellipse cx="66.4" cy="285.5" rx="1.35" ry="1.1" transform="rotate(268 66.4 285.5)" fill="#1e160a"/>
<path d="M72.8,282.4 L57.9,280.7 L72.4,284.3 Z" fill="#dccf88" stroke="#5a4818" stroke-width="0.35" opacity="0.85"/>
<ellipse cx="69.3" cy="282.8" rx="1.9" ry="1.0" transform="rotate(190 69.3 282.8)" fill="#8a7430" opacity="0.9"/>
<circle cx="66.0" cy="282.2" r="0.45" fill="#4a3a18"/>
<circle cx="63.5" cy="281.7" r="0.45" fill="#4a3a18"/>
<ellipse cx="72.6" cy="283.3" rx="1.35" ry="1.1" transform="rotate(190 72.6 283.3)" fill="#1e160a"/>
<path d="M87.0,266.5 L87.4,288.1 L88.9,266.6 Z" fill="#dccf88" stroke="#5a4818" stroke-width="0.35" opacity="0.85"/>
<ellipse cx="87.9" cy="269.8" rx="1.9" ry="1.0" transform="rotate(91 87.9 269.8)" fill="#8a7430" opacity="0.9"/>
<circle cx="87.7" cy="276.2" r="0.45" fill="#4a3a18"/>
<circle cx="87.6" cy="279.9" r="0.45" fill="#4a3a18"/>
<ellipse cx="87.9" cy="266.5" rx="1.35" ry="1.1" transform="rotate(91 87.9 266.5)" fill="#1e160a"/>
<path d="M80.1,273.6 L91.7,290.6 L81.8,272.6 Z" fill="#dccf88" stroke="#5a4818" stroke-width="0.35" opacity="0.85"/>
<ellipse cx="82.7" cy="276.0" rx="1.9" ry="1.0" transform="rotate(58 82.7 276.0)" fill="#8a7430" opacity="0.9"/>
<circle cx="85.8" cy="281.0" r="0.45" fill="#4a3a18"/>
<circle cx="87.6" cy="284.0" r="0.45" fill="#4a3a18"/>
<ellipse cx="80.9" cy="273.1" rx="1.35" ry="1.1" transform="rotate(58 80.9 273.1)" fill="#1e160a"/>
<path d="M75.2,283.9 L78.5,262.3 L73.3,283.6 Z" fill="#dccf88" stroke="#5a4818" stroke-width="0.35" opacity="0.85"/>
<ellipse cx="74.9" cy="280.5" rx="1.9" ry="1.0" transform="rotate(281 74.9 280.5)" fill="#8a7430" opacity="0.9"/>
<circle cx="76.1" cy="274.1" r="0.45" fill="#4a3a18"/>
<circle cx="76.9" cy="270.4" r="0.45" fill="#4a3a18"/>
<ellipse cx="74.3" cy="283.7" rx="1.35" ry="1.1" transform="rotate(281 74.3 283.7)" fill="#1e160a"/>
<ellipse cx="74.2" cy="275.3" rx="25.9" ry="20.7" fill="url(#dshade)"/>
</g>
<ellipse cx="126.4" cy="275.3" rx="25.9" ry="20.7" fill="url(#dg11)"/>
<g clip-path="url(#dc11)">
<path d="M117.5,274.7 L119.2,260.2 L115.7,274.3 Z" fill="#dccf88" stroke="#5a4818" stroke-width="0.35" opacity="0.85"/>
<ellipse cx="117.2" cy="271.3" rx="1.9" ry="1.0" transform="rotate(280 117.2 271.3)" fill="#8a7430" opacity="0.9"/>
<circle cx="117.8" cy="268.1" r="0.45" fill="#4a3a18"/>
<circle cx="118.2" cy="265.6" r="0.45" fill="#4a3a18"/>
<ellipse cx="116.6" cy="274.5" rx="1.35" ry="1.1" transform="rotate(280 116.6 274.5)" fill="#1e160a"/>
<path d="M124.8,267.2 L110.5,268.5 L124.9,269.1 Z" fill="#dccf88" stroke="#5a4818" stroke-width="0.35" opacity="0.85"/>
<ellipse cx="121.5" cy="268.2" rx="1.9" ry="1.0" transform="rotate(178 121.5 268.2)" fill="#8a7430" opacity="0.9"/>
<circle cx="118.4" cy="268.3" r="0.45" fill="#4a3a18"/>
<circle cx="116.0" cy="268.4" r="0.45" fill="#4a3a18"/>
<ellipse cx="124.8" cy="268.1" rx="1.35" ry="1.1" transform="rotate(178 124.8 268.1)" fill="#1e160a"/>
<path d="M115.8,279.3 L122.4,264.4 L114.1,278.5 Z" fill="#dccf88" stroke="#5a4818" stroke-width="0.35" opacity="0.85"/>
<ellipse cx="116.4" cy="276.0" rx="1.9" ry="1.0" transform="rotate(297 116.4 276.0)" fill="#8a7430" opacity="0.9"/>
<circle cx="118.3" cy="272.4" r="0.45" fill="#4a3a18"/>
<circle cx="119.5" cy="269.9" r="0.45" fill="#4a3a18"/>
<ellipse cx="114.9" cy="278.9" rx="1.35" ry="1.1" transform="rotate(297 114.9 278.9)" fill="#1e160a"/>
<path d="M124.5,266.1 L136.7,273.4 L125.6,264.6 Z" fill="#dccf88" stroke="#5a4818" stroke-width="0.35" opacity="0.85"/>
<ellipse cx="127.8" cy="267.2" rx="1.9" ry="1.0" transform="rotate(35 127.8 267.2)" fill="#8a7430" opacity="0.9"/>
<circle cx="130.3" cy="269.0" r="0.45" fill="#4a3a18"/>
<circle cx="132.3" cy="270.4" r="0.45" fill="#4a3a18"/>
<ellipse cx="125.0" cy="265.3" rx="1.35" ry="1.1" transform="rotate(35 125.0 265.3)" fill="#1e160a"/>
<path d="M116.1,269.9 L112.8,288.3 L118.0,270.3 Z" fill="#dccf88" stroke="#5a4818" stroke-width="0.35" opacity="0.85"/>
<ellipse cx="116.3" cy="273.3" rx="1.9" ry="1.0" transform="rotate(103 116.3 273.3)" fill="#8a7430" opacity="0.9"/>
<circle cx="115.1" cy="278.3" r="0.45" fill="#4a3a18"/>
<circle cx="114.4" cy="281.4" r="0.45" fill="#4a3a18"/>
<ellipse cx="117.0" cy="270.1" rx="1.35" ry="1.1" transform="rotate(103 117.0 270.1)" fill="#1e160a"/>
<path d="M109.5,275.6 L101.0,291.7 L111.2,276.6 Z" fill="#dccf88" stroke="#5a4818" stroke-width="0.35" opacity="0.85"/>
<ellipse cx="108.6" cy="278.9" rx="1.9" ry="1.0" transform="rotate(121 108.6 278.9)" fill="#8a7430" opacity="0.9"/>
<circle cx="106.1" cy="283.1" r="0.45" fill="#4a3a18"/>
<circle cx="104.5" cy="285.8" r="0.45" fill="#4a3a18"/>
<ellipse cx="110.3" cy="276.1" rx="1.35" ry="1.1" transform="rotate(121 110.3 276.1)" fill="#1e160a"/>
<path d="M113.9,261.7 L99.7,264.5 L114.2,263.5 Z" fill="#dccf88" stroke="#5a4818" stroke-width="0.35" opacity="0.85"/>
<ellipse cx="110.8" cy="263.0" rx="1.9" ry="1.0" transform="rotate(173 110.8 263.0)" fill="#8a7430" opacity="0.9"/>
<circle cx="107.6" cy="263.4" r="0.45" fill="#4a3a18"/>
<circle cx="105.1" cy="263.8" r="0.45" fill="#4a3a18"/>
<ellipse cx="114.0" cy="262.6" rx="1.35" ry="1.1" transform="rotate(173 114.0 262.6)" fill="#1e160a"/>
<circle cx="135.9" cy="284.6" r="3.4" fill="#4e4a28" stroke="#7a7650" stroke-width="0.8"/>
<circle cx="136.2" cy="284.8" r="1.4" fill="#36321a"/>
<circle cx="127.6" cy="275.6" r="3.4" fill="#4e4a28" stroke="#7a7650" stroke-width="0.8"/>
<circle cx="127.9" cy="275.8" r="1.4" fill="#36321a"/>
<circle cx="137.5" cy="268.9" r="3.4" fill="#4e4a28" stroke="#7a7650" stroke-width="0.8"/>
<circle cx="137.8" cy="269.1" r="1.4" fill="#36321a"/>
<circle cx="142.9" cy="276.5" r="3.4" fill="#4e4a28" stroke="#7a7650" stroke-width="0.8"/>
<circle cx="143.2" cy="276.7" r="1.4" fill="#36321a"/>
<circle cx="128.4" cy="284.4" r="3.4" fill="#4e4a28" stroke="#7a7650" stroke-width="0.8"/>
<circle cx="128.7" cy="284.6" r="1.4" fill="#36321a"/>
<circle cx="135.7" cy="275.8" r="3.4" fill="#4e4a28" stroke="#7a7650" stroke-width="0.8"/>
<circle cx="136.0" cy="276.0" r="1.4" fill="#36321a"/>
<circle cx="130.3" cy="268.8" r="3.4" fill="#4e4a28" stroke="#7a7650" stroke-width="0.8"/>
<circle cx="130.6" cy="269.0" r="1.4" fill="#36321a"/>
<ellipse cx="126.4" cy="275.3" rx="25.9" ry="20.7" fill="url(#dshade)"/>
</g>
<ellipse cx="180.0" cy="275.3" rx="25.9" ry="20.7" fill="url(#dg12)"/>
<g clip-path="url(#dc12)">
<circle cx="189.8" cy="272.1" r="3.4" fill="#46422a" stroke="#76724c" stroke-width="0.8"/>
<circle cx="190.1" cy="272.3" r="1.4" fill="#302c16"/>
<circle cx="192.9" cy="281.1" r="3.4" fill="#46422a" stroke="#76724c" stroke-width="0.8"/>
<circle cx="193.2" cy="281.3" r="1.4" fill="#302c16"/>
<circle cx="173.3" cy="269.9" r="3.4" fill="#46422a" stroke="#76724c" stroke-width="0.8"/>
<circle cx="173.6" cy="270.1" r="1.4" fill="#302c16"/>
<circle cx="196.6" cy="286.5" r="3.4" fill="#46422a" stroke="#76724c" stroke-width="0.8"/>
<circle cx="196.9" cy="286.7" r="1.4" fill="#302c16"/>
<circle cx="182.6" cy="277.4" r="3.4" fill="#46422a" stroke="#76724c" stroke-width="0.8"/>
<circle cx="182.9" cy="277.6" r="1.4" fill="#302c16"/>
<circle cx="182.8" cy="268.2" r="3.4" fill="#46422a" stroke="#76724c" stroke-width="0.8"/>
<circle cx="183.1" cy="268.4" r="1.4" fill="#302c16"/>
<circle cx="186.8" cy="288.8" r="3.4" fill="#46422a" stroke="#76724c" stroke-width="0.8"/>
<circle cx="187.1" cy="289.0" r="1.4" fill="#302c16"/>
<circle cx="175.0" cy="279.8" r="3.4" fill="#46422a" stroke="#76724c" stroke-width="0.8"/>
<circle cx="175.3" cy="280.0" r="1.4" fill="#302c16"/>
<circle cx="177.5" cy="290.7" r="3.4" fill="#46422a" stroke="#76724c" stroke-width="0.8"/>
<circle cx="177.8" cy="290.9" r="1.4" fill="#302c16"/>
<circle cx="171.2" cy="287.9" r="3.4" fill="#46422a" stroke="#76724c" stroke-width="0.8"/>
<circle cx="171.5" cy="288.1" r="1.4" fill="#302c16"/>
<circle cx="166.5" cy="277.3" r="3.4" fill="#46422a" stroke="#76724c" stroke-width="0.8"/>
<circle cx="166.8" cy="277.5" r="1.4" fill="#302c16"/>
<circle cx="197.2" cy="274.7" r="3.4" fill="#46422a" stroke="#76724c" stroke-width="0.8"/>
<circle cx="197.5" cy="274.9" r="1.4" fill="#302c16"/>
<circle cx="181.1" cy="285.3" r="3.4" fill="#46422a" stroke="#76724c" stroke-width="0.8"/>
<circle cx="181.4" cy="285.5" r="1.4" fill="#302c16"/>
<circle cx="199.6" cy="280.8" r="3.4" fill="#46422a" stroke="#76724c" stroke-width="0.8"/>
<circle cx="199.9" cy="281.0" r="1.4" fill="#302c16"/>
<circle cx="186.7" cy="282.2" r="3.4" fill="#46422a" stroke="#76724c" stroke-width="0.8"/>
<circle cx="187.0" cy="282.4" r="1.4" fill="#302c16"/>
<path d="M166.3,266.5 L186.1,272.4 L166.9,264.7 Z" fill="#dccf88" stroke="#5a4818" stroke-width="0.35" opacity="0.85"/>
<ellipse cx="169.7" cy="266.7" rx="1.9" ry="1.0" transform="rotate(19 169.7 266.7)" fill="#8a7430" opacity="0.9"/>
<circle cx="175.4" cy="268.7" r="0.45" fill="#4a3a18"/>
<circle cx="178.7" cy="269.8" r="0.45" fill="#4a3a18"/>
<ellipse cx="166.6" cy="265.6" rx="1.35" ry="1.1" transform="rotate(19 166.6 265.6)" fill="#1e160a"/>
<path d="M167.6,266.0 L167.5,247.8 L165.7,265.9 Z" fill="#dccf88" stroke="#5a4818" stroke-width="0.35" opacity="0.85"/>
<ellipse cx="166.8" cy="262.7" rx="1.9" ry="1.0" transform="rotate(273 166.8 262.7)" fill="#8a7430" opacity="0.9"/>
<circle cx="167.0" cy="257.8" r="0.45" fill="#4a3a18"/>
<circle cx="167.2" cy="254.7" r="0.45" fill="#4a3a18"/>
<ellipse cx="166.7" cy="266.0" rx="1.35" ry="1.1" transform="rotate(273 166.7 266.0)" fill="#1e160a"/>
<path d="M171.5,268.1 L176.0,248.0 L169.6,267.6 Z" fill="#dccf88" stroke="#5a4818" stroke-width="0.35" opacity="0.85"/>
<ellipse cx="171.4" cy="264.6" rx="1.9" ry="1.0" transform="rotate(285 171.4 264.6)" fill="#8a7430" opacity="0.9"/>
<circle cx="173.0" cy="258.9" r="0.45" fill="#4a3a18"/>
<circle cx="173.9" cy="255.6" r="0.45" fill="#4a3a18"/>
<ellipse cx="170.6" cy="267.8" rx="1.35" ry="1.1" transform="rotate(285 170.6 267.8)" fill="#1e160a"/>
<ellipse cx="180.0" cy="275.3" rx="25.9" ry="20.7" fill="url(#dshade)"/>
</g>
<text x="18.80" y="320.50" style="font-family:'Liberation Sans',Arial,sans-serif;font-size:8.2px;font-weight:bold" text-anchor="start" fill="#1a1a1a" stroke="#1a1a1a" stroke-width="0.12" textLength="23.4" lengthAdjust="spacingAndGlyphs" >72 hpf</text>
<ellipse cx="74.2" cy="317.6" rx="25.9" ry="20.5" fill="url(#dg20)"/>
<g clip-path="url(#dc20)">
<path d="M86.6,327.8 L99.4,310.3 L85.1,326.6 Z" fill="#dccf88" stroke="#5a4818" stroke-width="0.35" opacity="0.85"/>
<ellipse cx="87.9" cy="324.6" rx="1.9" ry="1.0" transform="rotate(309 87.9 324.6)" fill="#8a7430" opacity="0.9"/>
<circle cx="91.9" cy="319.6" r="0.45" fill="#4a3a18"/>
<circle cx="94.3" cy="316.7" r="0.45" fill="#4a3a18"/>
<ellipse cx="85.8" cy="327.2" rx="1.35" ry="1.1" transform="rotate(309 85.8 327.2)" fill="#1e160a"/>
<path d="M82.9,317.5 L73.7,297.6 L81.1,318.2 Z" fill="#dccf88" stroke="#5a4818" stroke-width="0.35" opacity="0.85"/>
<ellipse cx="80.8" cy="314.8" rx="1.9" ry="1.0" transform="rotate(248 80.8 314.8)" fill="#8a7430" opacity="0.9"/>
<circle cx="78.3" cy="308.8" r="0.45" fill="#4a3a18"/>
<circle cx="76.9" cy="305.3" r="0.45" fill="#4a3a18"/>
<ellipse cx="82.0" cy="317.8" rx="1.35" ry="1.1" transform="rotate(248 82.0 317.8)" fill="#1e160a"/>
<path d="M85.3,312.4 L87.4,296.1 L83.4,312.1 Z" fill="#dccf88" stroke="#5a4818" stroke-width="0.35" opacity="0.85"/>
<ellipse cx="85.0" cy="309.0" rx="1.9" ry="1.0" transform="rotate(281 85.0 309.0)" fill="#8a7430" opacity="0.9"/>
<circle cx="85.7" cy="305.0" r="0.45" fill="#4a3a18"/>
<circle cx="86.3" cy="302.2" r="0.45" fill="#4a3a18"/>
<ellipse cx="84.4" cy="312.2" rx="1.35" ry="1.1" transform="rotate(281 84.4 312.2)" fill="#1e160a"/>
<path d="M83.2,314.0 L71.9,329.8 L84.7,315.1 Z" fill="#dccf88" stroke="#5a4818" stroke-width="0.35" opacity="0.85"/>
<ellipse cx="81.9" cy="317.1" rx="1.9" ry="1.0" transform="rotate(128 81.9 317.1)" fill="#8a7430" opacity="0.9"/>
<circle cx="78.5" cy="321.4" r="0.45" fill="#4a3a18"/>
<circle cx="76.4" cy="324.0" r="0.45" fill="#4a3a18"/>
<ellipse cx="83.9" cy="314.5" rx="1.35" ry="1.1" transform="rotate(128 83.9 314.5)" fill="#1e160a"/>
<path d="M70.6,316.7 L59.2,334.5 L72.2,317.8 Z" fill="#dccf88" stroke="#5a4818" stroke-width="0.35" opacity="0.85"/>
<ellipse cx="69.5" cy="319.9" rx="1.9" ry="1.0" transform="rotate(125 69.5 319.9)" fill="#8a7430" opacity="0.9"/>
<circle cx="65.9" cy="325.0" r="0.45" fill="#4a3a18"/>
<circle cx="63.8" cy="328.0" r="0.45" fill="#4a3a18"/>
<ellipse cx="71.4" cy="317.2" rx="1.35" ry="1.1" transform="rotate(125 71.4 317.2)" fill="#1e160a"/>
<path d="M84.6,324.9 L68.9,310.7 L83.3,326.3 Z" fill="#dccf88" stroke="#5a4818" stroke-width="0.35" opacity="0.85"/>
<ellipse cx="81.6" cy="323.3" rx="1.9" ry="1.0" transform="rotate(225 81.6 323.3)" fill="#8a7430" opacity="0.9"/>
<circle cx="77.2" cy="318.9" r="0.45" fill="#4a3a18"/>
<circle cx="74.6" cy="316.3" r="0.45" fill="#4a3a18"/>
<ellipse cx="84.0" cy="325.6" rx="1.35" ry="1.1" transform="rotate(225 84.0 325.6)" fill="#1e160a"/>
<path d="M75.2,312.2 L68.0,334.3 L76.9,312.8 Z" fill="#dccf88" stroke="#5a4818" stroke-width="0.35" opacity="0.85"/>
<ellipse cx="74.9" cy="315.6" rx="1.9" ry="1.0" transform="rotate(110 74.9 315.6)" fill="#8a7430" opacity="0.9"/>
<circle cx="72.4" cy="322.3" r="0.45" fill="#4a3a18"/>
<circle cx="71.1" cy="326.0" r="0.45" fill="#4a3a18"/>
<ellipse cx="76.1" cy="312.5" rx="1.35" ry="1.1" transform="rotate(110 76.1 312.5)" fill="#1e160a"/>
<path d="M68.5,310.4 L92.0,306.8 L68.3,308.5 Z" fill="#dccf88" stroke="#5a4818" stroke-width="0.35" opacity="0.85"/>
<ellipse cx="71.6" cy="309.1" rx="1.9" ry="1.0" transform="rotate(354 71.6 309.1)" fill="#8a7430" opacity="0.9"/>
<circle cx="79.0" cy="308.3" r="0.45" fill="#4a3a18"/>
<circle cx="83.0" cy="307.8" r="0.45" fill="#4a3a18"/>
<ellipse cx="68.4" cy="309.4" rx="1.35" ry="1.1" transform="rotate(354 68.4 309.4)" fill="#1e160a"/>
<path d="M82.9,318.1 L103.0,307.1 L82.1,316.4 Z" fill="#dccf88" stroke="#5a4818" stroke-width="0.35" opacity="0.85"/>
<ellipse cx="85.4" cy="315.8" rx="1.9" ry="1.0" transform="rotate(334 85.4 315.8)" fill="#8a7430" opacity="0.9"/>
<circle cx="91.7" cy="312.7" r="0.45" fill="#4a3a18"/>
<circle cx="95.2" cy="311.0" r="0.45" fill="#4a3a18"/>
<ellipse cx="82.5" cy="317.3" rx="1.35" ry="1.1" transform="rotate(334 82.5 317.3)" fill="#1e160a"/>
<path d="M85.5,312.4 L87.9,295.4 L83.7,312.0 Z" fill="#dccf88" stroke="#5a4818" stroke-width="0.35" opacity="0.85"/>
<ellipse cx="85.2" cy="309.0" rx="1.9" ry="1.0" transform="rotate(281 85.2 309.0)" fill="#8a7430" opacity="0.9"/>
<circle cx="86.1" cy="304.6" r="0.45" fill="#4a3a18"/>
<circle cx="86.6" cy="301.8" r="0.45" fill="#4a3a18"/>
<ellipse cx="84.6" cy="312.2" rx="1.35" ry="1.1" transform="rotate(281 84.6 312.2)" fill="#1e160a"/>
<path d="M76.6,312.4 L79.7,335.9 L78.5,312.2 Z" fill="#dccf88" stroke="#5a4818" stroke-width="0.35" opacity="0.85"/>
<ellipse cx="77.9" cy="315.6" rx="1.9" ry="1.0" transform="rotate(85 77.9 315.6)" fill="#8a7430" opacity="0.9"/>
<circle cx="78.5" cy="322.9" r="0.45" fill="#4a3a18"/>
<circle cx="78.9" cy="326.9" r="0.45" fill="#4a3a18"/>
<ellipse cx="77.6" cy="312.3" rx="1.35" ry="1.1" transform="rotate(85 77.6 312.3)" fill="#1e160a"/>
<path d="M88.5,323.9 L104.7,313.5 L87.5,322.2 Z" fill="#dccf88" stroke="#5a4818" stroke-width="0.35" opacity="0.85"/>
<ellipse cx="90.9" cy="321.4" rx="1.9" ry="1.0" transform="rotate(330 90.9 321.4)" fill="#8a7430" opacity="0.9"/>
<circle cx="95.5" cy="318.8" r="0.45" fill="#4a3a18"/>
<circle cx="98.4" cy="317.2" r="0.45" fill="#4a3a18"/>
<ellipse cx="88.0" cy="323.0" rx="1.35" ry="1.1" transform="rotate(330 88.0 323.0)" fill="#1e160a"/>
<ellipse cx="74.2" cy="317.6" rx="25.9" ry="20.5" fill="url(#dshade)"/>
</g>
<ellipse cx="126.4" cy="317.6" rx="25.9" ry="20.5" fill="url(#dg21)"/>
<g clip-path="url(#dc21)">
<circle cx="117.6" cy="305.5" r="0.5" fill="#3a3018"/>
<circle cx="122.8" cy="327.6" r="0.5" fill="#3a3018"/>
<circle cx="131.0" cy="304.7" r="0.7" fill="#3a3018"/>
<circle cx="122.4" cy="305.6" r="0.8" fill="#3a3018"/>
<circle cx="120.3" cy="328.8" r="0.5" fill="#3a3018"/>
<circle cx="122.5" cy="322.0" r="0.9" fill="#3a3018"/>
<circle cx="146.7" cy="316.8" r="0.5" fill="#3a3018"/>
<circle cx="144.8" cy="329.4" r="0.8" fill="#3a3018"/>
<circle cx="139.3" cy="325.7" r="0.7" fill="#3a3018"/>
<circle cx="143.4" cy="330.9" r="0.5" fill="#3a3018"/>
<circle cx="128.1" cy="330.5" r="0.7" fill="#3a3018"/>
<circle cx="129.1" cy="321.4" r="0.8" fill="#3a3018"/>
<circle cx="114.6" cy="322.4" r="0.5" fill="#3a3018"/>
<circle cx="146.2" cy="321.1" r="0.9" fill="#3a3018"/>
<circle cx="118.6" cy="307.4" r="0.7" fill="#3a3018"/>
<circle cx="124.0" cy="310.0" r="0.5" fill="#3a3018"/>
<circle cx="142.5" cy="325.3" r="0.4" fill="#3a3018"/>
<circle cx="129.2" cy="323.7" r="0.5" fill="#3a3018"/>
<circle cx="147.1" cy="321.2" r="0.9" fill="#3a3018"/>
<circle cx="143.0" cy="321.5" r="0.4" fill="#3a3018"/>
<circle cx="147.0" cy="321.1" r="0.9" fill="#3a3018"/>
<circle cx="131.7" cy="319.4" r="0.6" fill="#3a3018"/>
<circle cx="149.3" cy="331.8" r="0.7" fill="#3a3018"/>
<circle cx="134.1" cy="304.9" r="0.6" fill="#3a3018"/>
<circle cx="136.9" cy="324.6" r="0.5" fill="#3a3018"/>
<circle cx="135.1" cy="329.6" r="0.9" fill="#3a3018"/>
<circle cx="113.3" cy="323.0" r="0.6" fill="#3a3018"/>
<circle cx="134.1" cy="325.7" r="0.8" fill="#3a3018"/>
<circle cx="143.4" cy="303.5" r="0.4" fill="#3a3018"/>
<circle cx="124.6" cy="313.2" r="0.5" fill="#3a3018"/>
<circle cx="113.6" cy="315.0" r="0.9" fill="#3a3018"/>
<circle cx="145.3" cy="331.7" r="0.8" fill="#3a3018"/>
<circle cx="135.5" cy="307.0" r="0.5" fill="#3a3018"/>
<circle cx="130.4" cy="332.5" r="0.8" fill="#3a3018"/>
<circle cx="140.6" cy="328.9" r="0.7" fill="#3a3018"/>
<circle cx="118.5" cy="307.1" r="0.8" fill="#3a3018"/>
<circle cx="122.7" cy="318.1" r="0.7" fill="#3a3018"/>
<circle cx="116.9" cy="328.6" r="0.5" fill="#3a3018"/>
<circle cx="117.7" cy="318.1" r="0.9" fill="#3a3018"/>
<circle cx="133.7" cy="304.2" r="0.5" fill="#3a3018"/>
<circle cx="134.8" cy="315.5" r="0.9" fill="#3a3018"/>
<circle cx="128.5" cy="327.9" r="0.8" fill="#3a3018"/>
<circle cx="131.9" cy="326.3" r="0.4" fill="#3a3018"/>
<circle cx="132.4" cy="316.8" r="0.8" fill="#3a3018"/>
<circle cx="117.2" cy="304.1" r="0.8" fill="#3a3018"/>
<circle cx="134.8" cy="326.2" r="0.4" fill="#3a3018"/>
<circle cx="137.9" cy="308.3" r="0.9" fill="#3a3018"/>
<circle cx="147.0" cy="323.2" r="0.5" fill="#3a3018"/>
<circle cx="140.7" cy="317.0" r="0.6" fill="#3a3018"/>
<circle cx="128.2" cy="325.3" r="0.4" fill="#3a3018"/>
<circle cx="143.3" cy="303.6" r="0.8" fill="#3a3018"/>
<circle cx="136.2" cy="305.1" r="0.9" fill="#3a3018"/>
<circle cx="118.4" cy="309.3" r="0.8" fill="#3a3018"/>
<circle cx="133.8" cy="318.3" r="0.8" fill="#3a3018"/>
<circle cx="132.0" cy="310.7" r="0.6" fill="#3a3018"/>
<circle cx="114.3" cy="305.0" r="0.4" fill="#3a3018"/>
<circle cx="132.2" cy="326.7" r="0.6" fill="#3a3018"/>
<circle cx="140.8" cy="326.4" r="0.6" fill="#3a3018"/>
<circle cx="137.2" cy="322.7" r="0.9" fill="#3a3018"/>
<circle cx="112.2" cy="303.2" r="0.8" fill="#3a3018"/>
<circle cx="144.8" cy="316.9" r="0.8" fill="#3a3018"/>
<circle cx="111.5" cy="330.5" r="0.8" fill="#3a3018"/>
<circle cx="124.1" cy="320.9" r="0.7" fill="#3a3018"/>
<circle cx="128.2" cy="329.3" r="0.6" fill="#3a3018"/>
<circle cx="113.2" cy="313.9" r="0.7" fill="#3a3018"/>
<circle cx="133.7" cy="319.0" r="0.4" fill="#3a3018"/>
<circle cx="120.5" cy="326.9" r="0.7" fill="#3a3018"/>
<circle cx="128.3" cy="331.2" r="0.6" fill="#3a3018"/>
<circle cx="143.3" cy="331.8" r="0.4" fill="#3a3018"/>
<circle cx="138.9" cy="306.1" r="0.7" fill="#3a3018"/>
<circle cx="132.3" cy="321.6" r="0.8" fill="#3a3018"/>
<circle cx="141.0" cy="323.7" r="0.7" fill="#3a3018"/>
<circle cx="114.5" cy="305.5" r="0.6" fill="#3a3018"/>
<circle cx="150.0" cy="307.7" r="0.4" fill="#3a3018"/>
<circle cx="119.1" cy="306.6" r="0.7" fill="#3a3018"/>
<circle cx="122.9" cy="302.9" r="0.4" fill="#3a3018"/>
<circle cx="112.2" cy="312.5" r="0.8" fill="#3a3018"/>
<circle cx="144.6" cy="331.0" r="0.6" fill="#3a3018"/>
<circle cx="111.1" cy="314.5" r="0.7" fill="#3a3018"/>
<circle cx="148.0" cy="309.5" r="0.9" fill="#3a3018"/>
<path d="M114.7,325.5 L132.7,337.8 L115.8,324.0 Z" fill="#dccf88" stroke="#5a4818" stroke-width="0.35" opacity="0.85"/>
<ellipse cx="117.9" cy="326.7" rx="1.9" ry="1.0" transform="rotate(37 117.9 326.7)" fill="#8a7430" opacity="0.9"/>
<circle cx="123.1" cy="330.6" r="0.45" fill="#4a3a18"/>
<circle cx="126.0" cy="332.8" r="0.45" fill="#4a3a18"/>
<ellipse cx="115.2" cy="324.7" rx="1.35" ry="1.1" transform="rotate(37 115.2 324.7)" fill="#1e160a"/>
<path d="M137.5,324.5 L118.7,325.6 L137.6,326.4 Z" fill="#dccf88" stroke="#5a4818" stroke-width="0.35" opacity="0.85"/>
<ellipse cx="134.3" cy="325.5" rx="1.9" ry="1.0" transform="rotate(179 134.3 325.5)" fill="#8a7430" opacity="0.9"/>
<circle cx="129.1" cy="325.5" r="0.45" fill="#4a3a18"/>
<circle cx="125.8" cy="325.6" r="0.45" fill="#4a3a18"/>
<ellipse cx="137.6" cy="325.5" rx="1.35" ry="1.1" transform="rotate(179 137.6 325.5)" fill="#1e160a"/>
<path d="M127.5,317.7 L141.3,303.8 L126.2,316.3 Z" fill="#dccf88" stroke="#5a4818" stroke-width="0.35" opacity="0.85"/>
<ellipse cx="129.3" cy="314.8" rx="1.9" ry="1.0" transform="rotate(318 129.3 314.8)" fill="#8a7430" opacity="0.9"/>
<circle cx="133.4" cy="311.1" r="0.45" fill="#4a3a18"/>
<circle cx="135.8" cy="308.8" r="0.45" fill="#4a3a18"/>
<ellipse cx="126.9" cy="317.0" rx="1.35" ry="1.1" transform="rotate(318 126.9 317.0)" fill="#1e160a"/>
<path d="M129.4,325.2 L132.5,341.6 L131.3,325.0 Z" fill="#dccf88" stroke="#5a4818" stroke-width="0.35" opacity="0.85"/>
<ellipse cx="130.8" cy="328.4" rx="1.9" ry="1.0" transform="rotate(83 130.8 328.4)" fill="#8a7430" opacity="0.9"/>
<circle cx="131.3" cy="332.5" r="0.45" fill="#4a3a18"/>
<circle cx="131.7" cy="335.3" r="0.45" fill="#4a3a18"/>
<ellipse cx="130.3" cy="325.1" rx="1.35" ry="1.1" transform="rotate(83 130.3 325.1)" fill="#1e160a"/>
<path d="M137.5,310.8 L124.4,322.4 L138.7,312.2 Z" fill="#dccf88" stroke="#5a4818" stroke-width="0.35" opacity="0.85"/>
<ellipse cx="135.6" cy="313.6" rx="1.9" ry="1.0" transform="rotate(142 135.6 313.6)" fill="#8a7430" opacity="0.9"/>
<circle cx="132.0" cy="316.4" r="0.45" fill="#4a3a18"/>
<circle cx="129.6" cy="318.3" r="0.45" fill="#4a3a18"/>
<ellipse cx="138.1" cy="311.5" rx="1.35" ry="1.1" transform="rotate(142 138.1 311.5)" fill="#1e160a"/>
<path d="M115.3,321.7 L124.9,341.0 L117.1,321.0 Z" fill="#dccf88" stroke="#5a4818" stroke-width="0.35" opacity="0.85"/>
<ellipse cx="117.5" cy="324.4" rx="1.9" ry="1.0" transform="rotate(66 117.5 324.4)" fill="#8a7430" opacity="0.9"/>
<circle cx="120.1" cy="330.2" r="0.45" fill="#4a3a18"/>
<circle cx="121.6" cy="333.5" r="0.45" fill="#4a3a18"/>
<ellipse cx="116.2" cy="321.4" rx="1.35" ry="1.1" transform="rotate(66 116.2 321.4)" fill="#1e160a"/>
<path d="M118.3,326.4 L137.0,324.0 L118.1,324.5 Z" fill="#dccf88" stroke="#5a4818" stroke-width="0.35" opacity="0.85"/>
<ellipse cx="121.5" cy="325.2" rx="1.9" ry="1.0" transform="rotate(355 121.5 325.2)" fill="#8a7430" opacity="0.9"/>
<circle cx="126.7" cy="324.8" r="0.45" fill="#4a3a18"/>
<circle cx="129.9" cy="324.5" r="0.45" fill="#4a3a18"/>
<ellipse cx="118.2" cy="325.5" rx="1.35" ry="1.1" transform="rotate(355 118.2 325.5)" fill="#1e160a"/>
<path d="M139.7,329.2 L156.1,339.3 L140.8,327.7 Z" fill="#dccf88" stroke="#5a4818" stroke-width="0.35" opacity="0.85"/>
<ellipse cx="142.9" cy="330.3" rx="1.9" ry="1.0" transform="rotate(34 142.9 330.3)" fill="#8a7430" opacity="0.9"/>
<circle cx="147.3" cy="333.3" r="0.45" fill="#4a3a18"/>
<circle cx="150.0" cy="335.2" r="0.45" fill="#4a3a18"/>
<ellipse cx="140.2" cy="328.4" rx="1.35" ry="1.1" transform="rotate(34 140.2 328.4)" fill="#1e160a"/>
<path d="M124.9,326.3 L109.9,334.9 L125.7,328.0 Z" fill="#dccf88" stroke="#5a4818" stroke-width="0.35" opacity="0.85"/>
<ellipse cx="122.4" cy="328.6" rx="1.9" ry="1.0" transform="rotate(153 122.4 328.6)" fill="#8a7430" opacity="0.9"/>
<circle cx="118.4" cy="330.6" r="0.45" fill="#4a3a18"/>
<circle cx="115.8" cy="331.9" r="0.45" fill="#4a3a18"/>
<ellipse cx="125.3" cy="327.1" rx="1.35" ry="1.1" transform="rotate(153 125.3 327.1)" fill="#1e160a"/>
<path d="M117.4,325.2 L129.4,309.0 L115.9,324.0 Z" fill="#dccf88" stroke="#5a4818" stroke-width="0.35" opacity="0.85"/>
<ellipse cx="118.7" cy="322.1" rx="1.9" ry="1.0" transform="rotate(309 118.7 322.1)" fill="#8a7430" opacity="0.9"/>
<circle cx="122.4" cy="317.6" r="0.45" fill="#4a3a18"/>
<circle cx="124.6" cy="315.0" r="0.45" fill="#4a3a18"/>
<ellipse cx="116.6" cy="324.6" rx="1.35" ry="1.1" transform="rotate(309 116.6 324.6)" fill="#1e160a"/>
<path d="M121.2,327.5 L105.3,334.5 L121.8,329.3 Z" fill="#dccf88" stroke="#5a4818" stroke-width="0.35" opacity="0.85"/>
<ellipse cx="118.4" cy="329.6" rx="1.9" ry="1.0" transform="rotate(159 118.4 329.6)" fill="#8a7430" opacity="0.9"/>
<circle cx="114.2" cy="331.2" r="0.45" fill="#4a3a18"/>
<circle cx="111.4" cy="332.2" r="0.45" fill="#4a3a18"/>
<ellipse cx="121.5" cy="328.4" rx="1.35" ry="1.1" transform="rotate(159 121.5 328.4)" fill="#1e160a"/>
<path d="M123.4,316.5 L121.0,294.4 L121.5,316.7 Z" fill="#dccf88" stroke="#5a4818" stroke-width="0.35" opacity="0.85"/>
<ellipse cx="122.2" cy="313.3" rx="1.9" ry="1.0" transform="rotate(266 122.2 313.3)" fill="#8a7430" opacity="0.9"/>
<circle cx="121.8" cy="306.6" r="0.45" fill="#4a3a18"/>
<circle cx="121.6" cy="302.8" r="0.45" fill="#4a3a18"/>
<ellipse cx="122.4" cy="316.6" rx="1.35" ry="1.1" transform="rotate(266 122.4 316.6)" fill="#1e160a"/>
<ellipse cx="126.4" cy="317.6" rx="25.9" ry="20.5" fill="url(#dshade)"/>
</g>
<ellipse cx="180.0" cy="317.6" rx="25.9" ry="20.5" fill="url(#dg22)"/>
<g clip-path="url(#dc22)">
<circle cx="197.3" cy="312.9" r="0.4" fill="#3a3018"/>
<circle cx="184.8" cy="311.5" r="0.4" fill="#3a3018"/>
<circle cx="186.6" cy="313.8" r="0.4" fill="#3a3018"/>
<circle cx="189.6" cy="306.7" r="0.6" fill="#3a3018"/>
<circle cx="200.4" cy="303.9" r="0.5" fill="#3a3018"/>
<circle cx="181.1" cy="331.3" r="0.6" fill="#3a3018"/>
<circle cx="181.1" cy="325.2" r="0.3" fill="#3a3018"/>
<circle cx="183.5" cy="303.2" r="0.3" fill="#3a3018"/>
<circle cx="168.6" cy="304.2" r="0.5" fill="#3a3018"/>
<circle cx="196.8" cy="314.9" r="0.5" fill="#3a3018"/>
<circle cx="192.4" cy="306.1" r="0.5" fill="#3a3018"/>
<circle cx="171.7" cy="329.6" r="0.6" fill="#3a3018"/>
<circle cx="172.9" cy="309.8" r="0.4" fill="#3a3018"/>
<circle cx="191.7" cy="306.5" r="0.5" fill="#3a3018"/>
<circle cx="159.8" cy="315.2" r="0.5" fill="#3a3018"/>
<circle cx="166.6" cy="307.0" r="0.5" fill="#3a3018"/>
<circle cx="168.7" cy="316.4" r="0.4" fill="#3a3018"/>
<circle cx="193.2" cy="313.4" r="0.5" fill="#3a3018"/>
<circle cx="196.2" cy="333.4" r="0.4" fill="#3a3018"/>
<circle cx="163.7" cy="329.2" r="0.5" fill="#3a3018"/>
<circle cx="196.5" cy="332.8" r="0.4" fill="#3a3018"/>
<circle cx="178.3" cy="322.9" r="0.3" fill="#3a3018"/>
<circle cx="171.0" cy="312.5" r="0.7" fill="#3a3018"/>
<circle cx="164.9" cy="317.6" r="0.7" fill="#3a3018"/>
<circle cx="182.4" cy="333.4" r="0.7" fill="#3a3018"/>
<circle cx="188.1" cy="307.6" r="0.7" fill="#3a3018"/>
<circle cx="158.4" cy="305.4" r="0.4" fill="#3a3018"/>
<circle cx="183.6" cy="317.4" r="0.4" fill="#3a3018"/>
<circle cx="171.0" cy="331.2" r="0.3" fill="#3a3018"/>
<circle cx="188.8" cy="324.6" r="0.4" fill="#3a3018"/>
<path d="M181.6,319.8 L168.9,303.8 L180.1,320.9 Z" fill="#dccf88" stroke="#5a4818" stroke-width="0.35" opacity="0.85"/>
<ellipse cx="178.9" cy="317.7" rx="1.9" ry="1.0" transform="rotate(234 178.9 317.7)" fill="#8a7430" opacity="0.9"/>
<circle cx="175.5" cy="312.9" r="0.45" fill="#4a3a18"/>
<circle cx="173.5" cy="310.1" r="0.45" fill="#4a3a18"/>
<ellipse cx="180.9" cy="320.4" rx="1.35" ry="1.1" transform="rotate(234 180.9 320.4)" fill="#1e160a"/>
<path d="M171.9,319.7 L192.9,325.5 L172.5,317.9 Z" fill="#dccf88" stroke="#5a4818" stroke-width="0.35" opacity="0.85"/>
<ellipse cx="175.3" cy="319.8" rx="1.9" ry="1.0" transform="rotate(18 175.3 319.8)" fill="#8a7430" opacity="0.9"/>
<circle cx="181.5" cy="321.8" r="0.45" fill="#4a3a18"/>
<circle cx="185.0" cy="322.9" r="0.45" fill="#4a3a18"/>
<ellipse cx="172.2" cy="318.8" rx="1.35" ry="1.1" transform="rotate(18 172.2 318.8)" fill="#1e160a"/>
<path d="M167.8,324.1 L178.2,340.2 L169.4,323.2 Z" fill="#dccf88" stroke="#5a4818" stroke-width="0.35" opacity="0.85"/>
<ellipse cx="170.2" cy="326.5" rx="1.9" ry="1.0" transform="rotate(60 170.2 326.5)" fill="#8a7430" opacity="0.9"/>
<circle cx="172.9" cy="331.1" r="0.45" fill="#4a3a18"/>
<circle cx="174.6" cy="333.9" r="0.45" fill="#4a3a18"/>
<ellipse cx="168.6" cy="323.7" rx="1.35" ry="1.1" transform="rotate(60 168.6 323.7)" fill="#1e160a"/>
<path d="M167.6,313.2 L188.8,323.6 L168.5,311.5 Z" fill="#dccf88" stroke="#5a4818" stroke-width="0.35" opacity="0.85"/>
<ellipse cx="171.0" cy="313.9" rx="1.9" ry="1.0" transform="rotate(28 171.0 313.9)" fill="#8a7430" opacity="0.9"/>
<circle cx="177.4" cy="317.4" r="0.45" fill="#4a3a18"/>
<circle cx="180.9" cy="319.3" r="0.45" fill="#4a3a18"/>
<ellipse cx="168.0" cy="312.4" rx="1.35" ry="1.1" transform="rotate(28 168.0 312.4)" fill="#1e160a"/>
<path d="M193.6,316.2 L174.6,303.9 L192.5,317.8 Z" fill="#dccf88" stroke="#5a4818" stroke-width="0.35" opacity="0.85"/>
<ellipse cx="190.4" cy="315.1" rx="1.9" ry="1.0" transform="rotate(215 190.4 315.1)" fill="#8a7430" opacity="0.9"/>
<circle cx="184.8" cy="311.1" r="0.45" fill="#4a3a18"/>
<circle cx="181.6" cy="308.9" r="0.45" fill="#4a3a18"/>
<ellipse cx="193.1" cy="317.0" rx="1.35" ry="1.1" transform="rotate(215 193.1 317.0)" fill="#1e160a"/>
<path d="M191.1,316.0 L198.8,298.5 L189.4,315.2 Z" fill="#dccf88" stroke="#5a4818" stroke-width="0.35" opacity="0.85"/>
<ellipse cx="191.7" cy="312.6" rx="1.9" ry="1.0" transform="rotate(297 191.7 312.6)" fill="#8a7430" opacity="0.9"/>
<circle cx="194.1" cy="307.9" r="0.45" fill="#4a3a18"/>
<circle cx="195.5" cy="305.0" r="0.45" fill="#4a3a18"/>
<ellipse cx="190.3" cy="315.6" rx="1.35" ry="1.1" transform="rotate(297 190.3 315.6)" fill="#1e160a"/>
<path d="M177.7,323.7 L159.3,337.9 L178.8,325.2 Z" fill="#dccf88" stroke="#5a4818" stroke-width="0.35" opacity="0.85"/>
<ellipse cx="175.5" cy="326.4" rx="1.9" ry="1.0" transform="rotate(145 175.5 326.4)" fill="#8a7430" opacity="0.9"/>
<circle cx="169.7" cy="330.5" r="0.45" fill="#4a3a18"/>
<circle cx="166.5" cy="332.8" r="0.45" fill="#4a3a18"/>
<ellipse cx="178.2" cy="324.5" rx="1.35" ry="1.1" transform="rotate(145 178.2 324.5)" fill="#1e160a"/>
<path d="M179.4,310.7 L188.2,295.3 L177.8,309.6 Z" fill="#dccf88" stroke="#5a4818" stroke-width="0.35" opacity="0.85"/>
<ellipse cx="180.4" cy="307.4" rx="1.9" ry="1.0" transform="rotate(303 180.4 307.4)" fill="#8a7430" opacity="0.9"/>
<circle cx="182.9" cy="303.5" r="0.45" fill="#4a3a18"/>
<circle cx="184.5" cy="300.9" r="0.45" fill="#4a3a18"/>
<ellipse cx="178.6" cy="310.2" rx="1.35" ry="1.1" transform="rotate(303 178.6 310.2)" fill="#1e160a"/>
<path d="M178.1,322.6 L188.9,310.5 L176.8,321.3 Z" fill="#dccf88" stroke="#5a4818" stroke-width="0.35" opacity="0.85"/>
<ellipse cx="179.8" cy="319.6" rx="1.9" ry="1.0" transform="rotate(315 179.8 319.6)" fill="#8a7430" opacity="0.9"/>
<circle cx="182.6" cy="316.8" r="0.45" fill="#4a3a18"/>
<circle cx="184.6" cy="314.9" r="0.45" fill="#4a3a18"/>
<ellipse cx="177.4" cy="321.9" rx="1.35" ry="1.1" transform="rotate(315 177.4 321.9)" fill="#1e160a"/>
<path d="M192.4,320.5 L177.7,307.5 L191.0,321.9 Z" fill="#dccf88" stroke="#5a4818" stroke-width="0.35" opacity="0.85"/>
<ellipse cx="189.3" cy="318.9" rx="1.9" ry="1.0" transform="rotate(224 189.3 318.9)" fill="#8a7430" opacity="0.9"/>
<circle cx="185.4" cy="315.0" r="0.45" fill="#4a3a18"/>
<circle cx="183.0" cy="312.7" r="0.45" fill="#4a3a18"/>
<ellipse cx="191.7" cy="321.2" rx="1.35" ry="1.1" transform="rotate(224 191.7 321.2)" fill="#1e160a"/>
<path d="M190.9,327.9 L177.8,337.7 L192.0,329.5 Z" fill="#dccf88" stroke="#5a4818" stroke-width="0.35" opacity="0.85"/>
<ellipse cx="188.7" cy="330.5" rx="1.9" ry="1.0" transform="rotate(147 188.7 330.5)" fill="#8a7430" opacity="0.9"/>
<circle cx="185.3" cy="332.8" r="0.45" fill="#4a3a18"/>
<circle cx="183.0" cy="334.3" r="0.45" fill="#4a3a18"/>
<ellipse cx="191.5" cy="328.7" rx="1.35" ry="1.1" transform="rotate(147 191.5 328.7)" fill="#1e160a"/>
<path d="M191.4,307.3 L177.8,317.6 L192.5,308.9 Z" fill="#dccf88" stroke="#5a4818" stroke-width="0.35" opacity="0.85"/>
<ellipse cx="189.2" cy="309.9" rx="1.9" ry="1.0" transform="rotate(146 189.2 309.9)" fill="#8a7430" opacity="0.9"/>
<circle cx="185.6" cy="312.3" r="0.45" fill="#4a3a18"/>
<circle cx="183.2" cy="314.0" r="0.45" fill="#4a3a18"/>
<ellipse cx="192.0" cy="308.1" rx="1.35" ry="1.1" transform="rotate(146 192.0 308.1)" fill="#1e160a"/>
<ellipse cx="180.0" cy="317.6" rx="25.9" ry="20.5" fill="url(#dshade)"/>
</g>
<text x="18.80" y="362.30" style="font-family:'Liberation Sans',Arial,sans-serif;font-size:8.2px;font-weight:bold" text-anchor="start" fill="#1a1a1a" stroke="#1a1a1a" stroke-width="0.12" textLength="23.4" lengthAdjust="spacingAndGlyphs" >96 hpf</text>
<ellipse cx="74.2" cy="359.4" rx="25.9" ry="20.6" fill="url(#dg30)"/>
<g clip-path="url(#dc30)">
<path d="M68.5,358.8 L79.0,374.1 L70.1,357.8 Z" fill="#dccf88" stroke="#5a4818" stroke-width="0.35" opacity="0.85"/>
<ellipse cx="71.0" cy="361.1" rx="1.9" ry="1.0" transform="rotate(59 71.0 361.1)" fill="#8a7430" opacity="0.9"/>
<circle cx="73.7" cy="365.4" r="0.45" fill="#4a3a18"/>
<circle cx="75.3" cy="368.1" r="0.45" fill="#4a3a18"/>
<ellipse cx="69.3" cy="358.3" rx="1.35" ry="1.1" transform="rotate(59 69.3 358.3)" fill="#1e160a"/>
<path d="M86.4,359.4 L109.6,358.6 L86.5,357.5 Z" fill="#dccf88" stroke="#5a4818" stroke-width="0.35" opacity="0.85"/>
<ellipse cx="89.8" cy="358.4" rx="1.9" ry="1.0" transform="rotate(0 89.8 358.4)" fill="#8a7430" opacity="0.9"/>
<circle cx="96.9" cy="358.5" r="0.45" fill="#4a3a18"/>
<circle cx="100.8" cy="358.5" r="0.45" fill="#4a3a18"/>
<ellipse cx="86.5" cy="358.4" rx="1.35" ry="1.1" transform="rotate(0 86.5 358.4)" fill="#1e160a"/>
<path d="M83.2,361.6 L85.3,386.8 L85.1,361.5 Z" fill="#dccf88" stroke="#5a4818" stroke-width="0.35" opacity="0.85"/>
<ellipse cx="84.3" cy="364.9" rx="1.9" ry="1.0" transform="rotate(87 84.3 364.9)" fill="#8a7430" opacity="0.9"/>
<circle cx="84.7" cy="372.9" r="0.45" fill="#4a3a18"/>
<circle cx="84.9" cy="377.2" r="0.45" fill="#4a3a18"/>
<ellipse cx="84.1" cy="361.6" rx="1.35" ry="1.1" transform="rotate(87 84.1 361.6)" fill="#1e160a"/>
<path d="M60.0,358.6 L80.7,364.0 L60.6,356.7 Z" fill="#dccf88" stroke="#5a4818" stroke-width="0.35" opacity="0.85"/>
<ellipse cx="63.5" cy="358.6" rx="1.9" ry="1.0" transform="rotate(17 63.5 358.6)" fill="#8a7430" opacity="0.9"/>
<circle cx="69.5" cy="360.5" r="0.45" fill="#4a3a18"/>
<circle cx="72.9" cy="361.6" r="0.45" fill="#4a3a18"/>
<ellipse cx="60.3" cy="357.6" rx="1.35" ry="1.1" transform="rotate(17 60.3 357.6)" fill="#1e160a"/>
<path d="M62.7,354.5 L42.2,352.0 L62.4,356.4 Z" fill="#dccf88" stroke="#5a4818" stroke-width="0.35" opacity="0.85"/>
<ellipse cx="59.3" cy="354.9" rx="1.9" ry="1.0" transform="rotate(190 59.3 354.9)" fill="#8a7430" opacity="0.9"/>
<circle cx="53.4" cy="353.9" r="0.45" fill="#4a3a18"/>
<circle cx="49.9" cy="353.3" r="0.45" fill="#4a3a18"/>
<ellipse cx="62.5" cy="355.4" rx="1.35" ry="1.1" transform="rotate(190 62.5 355.4)" fill="#1e160a"/>
<path d="M58.8,369.0 L43.7,359.1 L57.7,370.5 Z" fill="#dccf88" stroke="#5a4818" stroke-width="0.35" opacity="0.85"/>
<ellipse cx="55.6" cy="367.8" rx="1.9" ry="1.0" transform="rotate(216 55.6 367.8)" fill="#8a7430" opacity="0.9"/>
<circle cx="51.7" cy="364.9" r="0.45" fill="#4a3a18"/>
<circle cx="49.3" cy="363.1" r="0.45" fill="#4a3a18"/>
<ellipse cx="58.3" cy="369.7" rx="1.35" ry="1.1" transform="rotate(216 58.3 369.7)" fill="#1e160a"/>
<path d="M67.0,350.7 L73.8,367.8 L68.8,350.1 Z" fill="#dccf88" stroke="#5a4818" stroke-width="0.35" opacity="0.85"/>
<ellipse cx="69.0" cy="353.5" rx="1.9" ry="1.0" transform="rotate(71 69.0 353.5)" fill="#8a7430" opacity="0.9"/>
<circle cx="70.6" cy="358.2" r="0.45" fill="#4a3a18"/>
<circle cx="71.6" cy="361.2" r="0.45" fill="#4a3a18"/>
<ellipse cx="67.9" cy="350.4" rx="1.35" ry="1.1" transform="rotate(71 67.9 350.4)" fill="#1e160a"/>
<path d="M59.8,356.6 L75.5,376.8 L61.4,355.5 Z" fill="#dccf88" stroke="#5a4818" stroke-width="0.35" opacity="0.85"/>
<ellipse cx="62.5" cy="358.8" rx="1.9" ry="1.0" transform="rotate(54 62.5 358.8)" fill="#8a7430" opacity="0.9"/>
<circle cx="67.3" cy="365.4" r="0.45" fill="#4a3a18"/>
<circle cx="69.8" cy="368.9" r="0.45" fill="#4a3a18"/>
<ellipse cx="60.6" cy="356.1" rx="1.35" ry="1.1" transform="rotate(54 60.6 356.1)" fill="#1e160a"/>
<path d="M84.8,365.6 L100.2,354.4 L83.7,364.0 Z" fill="#dccf88" stroke="#5a4818" stroke-width="0.35" opacity="0.85"/>
<ellipse cx="87.0" cy="363.0" rx="1.9" ry="1.0" transform="rotate(327 87.0 363.0)" fill="#8a7430" opacity="0.9"/>
<circle cx="91.4" cy="360.1" r="0.45" fill="#4a3a18"/>
<circle cx="94.2" cy="358.3" r="0.45" fill="#4a3a18"/>
<ellipse cx="84.3" cy="364.8" rx="1.35" ry="1.1" transform="rotate(327 84.3 364.8)" fill="#1e160a"/>
<path d="M59.0,360.5 L81.3,359.4 L59.0,358.6 Z" fill="#dccf88" stroke="#5a4818" stroke-width="0.35" opacity="0.85"/>
<ellipse cx="62.3" cy="359.5" rx="1.9" ry="1.0" transform="rotate(360 62.3 359.5)" fill="#8a7430" opacity="0.9"/>
<circle cx="69.0" cy="359.5" r="0.45" fill="#4a3a18"/>
<circle cx="72.8" cy="359.5" r="0.45" fill="#4a3a18"/>
<ellipse cx="59.0" cy="359.5" rx="1.35" ry="1.1" transform="rotate(360 59.0 359.5)" fill="#1e160a"/>
<path d="M60.5,355.3 L65.3,334.7 L58.6,354.8 Z" fill="#dccf88" stroke="#5a4818" stroke-width="0.35" opacity="0.85"/>
<ellipse cx="60.4" cy="351.8" rx="1.9" ry="1.0" transform="rotate(286 60.4 351.8)" fill="#8a7430" opacity="0.9"/>
<circle cx="62.1" cy="345.9" r="0.45" fill="#4a3a18"/>
<circle cx="63.1" cy="342.5" r="0.45" fill="#4a3a18"/>
<ellipse cx="59.6" cy="355.0" rx="1.35" ry="1.1" transform="rotate(286 59.6 355.0)" fill="#1e160a"/>
<path d="M88.3,372.2 L106.8,367.8 L88.0,370.3 Z" fill="#dccf88" stroke="#5a4818" stroke-width="0.35" opacity="0.85"/>
<ellipse cx="91.4" cy="370.6" rx="1.9" ry="1.0" transform="rotate(349 91.4 370.6)" fill="#8a7430" opacity="0.9"/>
<circle cx="96.6" cy="369.7" r="0.45" fill="#4a3a18"/>
<circle cx="99.7" cy="369.1" r="0.45" fill="#4a3a18"/>
<ellipse cx="88.2" cy="371.2" rx="1.35" ry="1.1" transform="rotate(349 88.2 371.2)" fill="#1e160a"/>
<path d="M82.1,364.1 L103.4,377.8 L83.2,362.6 Z" fill="#dccf88" stroke="#5a4818" stroke-width="0.35" opacity="0.85"/>
<ellipse cx="85.4" cy="365.2" rx="1.9" ry="1.0" transform="rotate(35 85.4 365.2)" fill="#8a7430" opacity="0.9"/>
<circle cx="92.0" cy="369.9" r="0.45" fill="#4a3a18"/>
<circle cx="95.5" cy="372.3" r="0.45" fill="#4a3a18"/>
<ellipse cx="82.7" cy="363.3" rx="1.35" ry="1.1" transform="rotate(35 82.7 363.3)" fill="#1e160a"/>
<ellipse cx="74.2" cy="359.4" rx="25.9" ry="20.6" fill="url(#dshade)"/>
</g>
<ellipse cx="126.4" cy="359.4" rx="25.9" ry="20.6" fill="url(#dg31)"/>
<g clip-path="url(#dc31)">
<path d="M119.1,357.7 L100.5,347.3 L118.1,359.3 Z" fill="#dccf88" stroke="#5a4818" stroke-width="0.35" opacity="0.85"/>
<ellipse cx="115.8" cy="356.8" rx="1.9" ry="1.0" transform="rotate(212 115.8 356.8)" fill="#8a7430" opacity="0.9"/>
<circle cx="110.4" cy="353.5" r="0.45" fill="#4a3a18"/>
<circle cx="107.4" cy="351.6" r="0.45" fill="#4a3a18"/>
<ellipse cx="118.6" cy="358.5" rx="1.35" ry="1.1" transform="rotate(212 118.6 358.5)" fill="#1e160a"/>
<path d="M117.9,349.3 L102.2,340.1 L116.9,350.9 Z" fill="#dccf88" stroke="#5a4818" stroke-width="0.35" opacity="0.85"/>
<ellipse cx="114.6" cy="348.3" rx="1.9" ry="1.0" transform="rotate(214 114.6 348.3)" fill="#8a7430" opacity="0.9"/>
<circle cx="110.5" cy="345.6" r="0.45" fill="#4a3a18"/>
<circle cx="108.0" cy="343.9" r="0.45" fill="#4a3a18"/>
<ellipse cx="117.4" cy="350.1" rx="1.35" ry="1.1" transform="rotate(214 117.4 350.1)" fill="#1e160a"/>
<path d="M114.5,361.5 L119.0,380.1 L116.4,361.1 Z" fill="#dccf88" stroke="#5a4818" stroke-width="0.35" opacity="0.85"/>
<ellipse cx="116.1" cy="364.5" rx="1.9" ry="1.0" transform="rotate(79 116.1 364.5)" fill="#8a7430" opacity="0.9"/>
<circle cx="117.0" cy="369.8" r="0.45" fill="#4a3a18"/>
<circle cx="117.6" cy="373.0" r="0.45" fill="#4a3a18"/>
<ellipse cx="115.5" cy="361.3" rx="1.35" ry="1.1" transform="rotate(79 115.5 361.3)" fill="#1e160a"/>
<path d="M114.5,370.3 L124.2,347.1 L112.8,369.5 Z" fill="#dccf88" stroke="#5a4818" stroke-width="0.35" opacity="0.85"/>
<ellipse cx="115.1" cy="366.9" rx="1.9" ry="1.0" transform="rotate(295 115.1 366.9)" fill="#8a7430" opacity="0.9"/>
<circle cx="118.4" cy="359.6" r="0.45" fill="#4a3a18"/>
<circle cx="120.2" cy="355.8" r="0.45" fill="#4a3a18"/>
<ellipse cx="113.7" cy="369.9" rx="1.35" ry="1.1" transform="rotate(295 113.7 369.9)" fill="#1e160a"/>
<path d="M138.5,355.5 L114.2,354.9 L138.4,357.4 Z" fill="#dccf88" stroke="#5a4818" stroke-width="0.35" opacity="0.85"/>
<ellipse cx="135.1" cy="356.3" rx="1.9" ry="1.0" transform="rotate(184 135.1 356.3)" fill="#8a7430" opacity="0.9"/>
<circle cx="127.5" cy="355.8" r="0.45" fill="#4a3a18"/>
<circle cx="123.4" cy="355.5" r="0.45" fill="#4a3a18"/>
<ellipse cx="138.4" cy="356.5" rx="1.35" ry="1.1" transform="rotate(184 138.4 356.5)" fill="#1e160a"/>
<path d="M124.0,372.1 L147.4,382.0 L124.8,370.4 Z" fill="#dccf88" stroke="#5a4818" stroke-width="0.35" opacity="0.85"/>
<ellipse cx="127.4" cy="372.6" rx="1.9" ry="1.0" transform="rotate(25 127.4 372.6)" fill="#8a7430" opacity="0.9"/>
<circle cx="134.7" cy="376.1" r="0.45" fill="#4a3a18"/>
<circle cx="138.6" cy="377.9" r="0.45" fill="#4a3a18"/>
<ellipse cx="124.4" cy="371.2" rx="1.35" ry="1.1" transform="rotate(25 124.4 371.2)" fill="#1e160a"/>
<path d="M124.4,358.0 L145.2,368.3 L125.3,356.3 Z" fill="#dccf88" stroke="#5a4818" stroke-width="0.35" opacity="0.85"/>
<ellipse cx="127.7" cy="358.7" rx="1.9" ry="1.0" transform="rotate(29 127.7 358.7)" fill="#8a7430" opacity="0.9"/>
<circle cx="134.0" cy="362.2" r="0.45" fill="#4a3a18"/>
<circle cx="137.4" cy="364.1" r="0.45" fill="#4a3a18"/>
<ellipse cx="124.8" cy="357.1" rx="1.35" ry="1.1" transform="rotate(29 124.8 357.1)" fill="#1e160a"/>
<path d="M122.5,367.3 L127.4,348.0 L120.7,366.7 Z" fill="#dccf88" stroke="#5a4818" stroke-width="0.35" opacity="0.85"/>
<ellipse cx="122.6" cy="363.8" rx="1.9" ry="1.0" transform="rotate(287 122.6 363.8)" fill="#8a7430" opacity="0.9"/>
<circle cx="124.2" cy="358.4" r="0.45" fill="#4a3a18"/>
<circle cx="125.2" cy="355.2" r="0.45" fill="#4a3a18"/>
<ellipse cx="121.6" cy="367.0" rx="1.35" ry="1.1" transform="rotate(287 121.6 367.0)" fill="#1e160a"/>
<path d="M115.7,352.5 L133.0,346.5 L115.1,350.7 Z" fill="#dccf88" stroke="#5a4818" stroke-width="0.35" opacity="0.85"/>
<ellipse cx="118.6" cy="350.7" rx="1.9" ry="1.0" transform="rotate(344 118.6 350.7)" fill="#8a7430" opacity="0.9"/>
<circle cx="123.3" cy="349.3" r="0.45" fill="#4a3a18"/>
<circle cx="126.3" cy="348.4" r="0.45" fill="#4a3a18"/>
<ellipse cx="115.4" cy="351.6" rx="1.35" ry="1.1" transform="rotate(344 115.4 351.6)" fill="#1e160a"/>
<path d="M138.0,362.4 L120.2,346.6 L136.6,363.8 Z" fill="#dccf88" stroke="#5a4818" stroke-width="0.35" opacity="0.85"/>
<ellipse cx="134.9" cy="360.8" rx="1.9" ry="1.0" transform="rotate(224 134.9 360.8)" fill="#8a7430" opacity="0.9"/>
<circle cx="129.6" cy="355.7" r="0.45" fill="#4a3a18"/>
<circle cx="126.7" cy="352.8" r="0.45" fill="#4a3a18"/>
<ellipse cx="137.3" cy="363.1" rx="1.35" ry="1.1" transform="rotate(224 137.3 363.1)" fill="#1e160a"/>
<path d="M115.3,368.3 L116.2,393.7 L117.2,368.3 Z" fill="#dccf88" stroke="#5a4818" stroke-width="0.35" opacity="0.85"/>
<ellipse cx="116.2" cy="371.6" rx="1.9" ry="1.0" transform="rotate(90 116.2 371.6)" fill="#8a7430" opacity="0.9"/>
<circle cx="116.2" cy="379.7" r="0.45" fill="#4a3a18"/>
<circle cx="116.2" cy="384.0" r="0.45" fill="#4a3a18"/>
<ellipse cx="116.2" cy="368.3" rx="1.35" ry="1.1" transform="rotate(90 116.2 368.3)" fill="#1e160a"/>
<path d="M114.6,359.3 L110.2,381.1 L116.5,359.8 Z" fill="#dccf88" stroke="#5a4818" stroke-width="0.35" opacity="0.85"/>
<ellipse cx="114.8" cy="362.7" rx="1.9" ry="1.0" transform="rotate(104 114.8 362.7)" fill="#8a7430" opacity="0.9"/>
<circle cx="113.1" cy="369.2" r="0.45" fill="#4a3a18"/>
<circle cx="112.2" cy="372.9" r="0.45" fill="#4a3a18"/>
<ellipse cx="115.6" cy="359.5" rx="1.35" ry="1.1" transform="rotate(104 115.6 359.5)" fill="#1e160a"/>
<path d="M113.8,356.5 L88.8,354.9 L113.6,358.4 Z" fill="#dccf88" stroke="#5a4818" stroke-width="0.35" opacity="0.85"/>
<ellipse cx="110.5" cy="357.1" rx="1.9" ry="1.0" transform="rotate(186 110.5 357.1)" fill="#8a7430" opacity="0.9"/>
<circle cx="102.5" cy="356.3" r="0.45" fill="#4a3a18"/>
<circle cx="98.3" cy="355.9" r="0.45" fill="#4a3a18"/>
<ellipse cx="113.7" cy="357.5" rx="1.35" ry="1.1" transform="rotate(186 113.7 357.5)" fill="#1e160a"/>
<ellipse cx="126.4" cy="359.4" rx="25.9" ry="20.6" fill="url(#dshade)"/>
</g>
<ellipse cx="180.0" cy="359.4" rx="25.9" ry="20.6" fill="url(#dg32)"/>
<g clip-path="url(#dc32)">
<path d="M165.3,364.8 L147.0,350.2 L164.0,366.2 Z" fill="#dccf88" stroke="#5a4818" stroke-width="0.35" opacity="0.85"/>
<ellipse cx="162.1" cy="363.3" rx="1.9" ry="1.0" transform="rotate(221 162.1 363.3)" fill="#8a7430" opacity="0.9"/>
<circle cx="156.7" cy="358.6" r="0.45" fill="#4a3a18"/>
<circle cx="153.7" cy="356.0" r="0.45" fill="#4a3a18"/>
<ellipse cx="164.6" cy="365.5" rx="1.35" ry="1.1" transform="rotate(221 164.6 365.5)" fill="#1e160a"/>
<path d="M194.5,361.0 L208.3,348.6 L193.3,359.5 Z" fill="#dccf88" stroke="#5a4818" stroke-width="0.35" opacity="0.85"/>
<ellipse cx="196.4" cy="358.2" rx="1.9" ry="1.0" transform="rotate(321 196.4 358.2)" fill="#8a7430" opacity="0.9"/>
<circle cx="200.4" cy="355.0" r="0.45" fill="#4a3a18"/>
<circle cx="202.8" cy="353.0" r="0.45" fill="#4a3a18"/>
<ellipse cx="193.9" cy="360.3" rx="1.35" ry="1.1" transform="rotate(321 193.9 360.3)" fill="#1e160a"/>
<path d="M170.2,370.0 L191.2,381.6 L171.2,368.4 Z" fill="#dccf88" stroke="#5a4818" stroke-width="0.35" opacity="0.85"/>
<ellipse cx="173.5" cy="370.9" rx="1.9" ry="1.0" transform="rotate(31 173.5 370.9)" fill="#8a7430" opacity="0.9"/>
<circle cx="179.9" cy="374.8" r="0.45" fill="#4a3a18"/>
<circle cx="183.4" cy="376.9" r="0.45" fill="#4a3a18"/>
<ellipse cx="170.7" cy="369.2" rx="1.35" ry="1.1" transform="rotate(31 170.7 369.2)" fill="#1e160a"/>
<path d="M183.2,362.5 L204.4,359.8 L183.1,360.6 Z" fill="#dccf88" stroke="#5a4818" stroke-width="0.35" opacity="0.85"/>
<ellipse cx="186.4" cy="361.3" rx="1.9" ry="1.0" transform="rotate(355 186.4 361.3)" fill="#8a7430" opacity="0.9"/>
<circle cx="192.7" cy="360.7" r="0.45" fill="#4a3a18"/>
<circle cx="196.3" cy="360.4" r="0.45" fill="#4a3a18"/>
<ellipse cx="183.1" cy="361.6" rx="1.35" ry="1.1" transform="rotate(355 183.1 361.6)" fill="#1e160a"/>
<path d="M188.7,350.1 L208.5,335.4 L187.7,348.5 Z" fill="#dccf88" stroke="#5a4818" stroke-width="0.35" opacity="0.85"/>
<ellipse cx="190.9" cy="347.5" rx="1.9" ry="1.0" transform="rotate(325 190.9 347.5)" fill="#8a7430" opacity="0.9"/>
<circle cx="197.3" cy="343.0" r="0.45" fill="#4a3a18"/>
<circle cx="200.8" cy="340.7" r="0.45" fill="#4a3a18"/>
<ellipse cx="188.2" cy="349.3" rx="1.35" ry="1.1" transform="rotate(325 188.2 349.3)" fill="#1e160a"/>
<path d="M166.9,355.7 L190.3,364.8 L167.6,354.0 Z" fill="#dccf88" stroke="#5a4818" stroke-width="0.35" opacity="0.85"/>
<ellipse cx="170.3" cy="356.1" rx="1.9" ry="1.0" transform="rotate(23 170.3 356.1)" fill="#8a7430" opacity="0.9"/>
<circle cx="177.6" cy="359.3" r="0.45" fill="#4a3a18"/>
<circle cx="181.5" cy="361.0" r="0.45" fill="#4a3a18"/>
<ellipse cx="167.2" cy="354.8" rx="1.35" ry="1.1" transform="rotate(23 167.2 354.8)" fill="#1e160a"/>
<path d="M175.4,363.6 L165.1,348.2 L173.8,364.6 Z" fill="#dccf88" stroke="#5a4818" stroke-width="0.35" opacity="0.85"/>
<ellipse cx="172.9" cy="361.3" rx="1.9" ry="1.0" transform="rotate(239 172.9 361.3)" fill="#8a7430" opacity="0.9"/>
<circle cx="170.3" cy="357.0" r="0.45" fill="#4a3a18"/>
<circle cx="168.7" cy="354.3" r="0.45" fill="#4a3a18"/>
<ellipse cx="174.6" cy="364.1" rx="1.35" ry="1.1" transform="rotate(239 174.6 364.1)" fill="#1e160a"/>
<path d="M164.5,357.0 L179.2,368.3 L165.7,355.6 Z" fill="#dccf88" stroke="#5a4818" stroke-width="0.35" opacity="0.85"/>
<ellipse cx="167.6" cy="358.4" rx="1.9" ry="1.0" transform="rotate(40 167.6 358.4)" fill="#8a7430" opacity="0.9"/>
<circle cx="171.4" cy="361.7" r="0.45" fill="#4a3a18"/>
<circle cx="173.8" cy="363.7" r="0.45" fill="#4a3a18"/>
<ellipse cx="165.1" cy="356.3" rx="1.35" ry="1.1" transform="rotate(40 165.1 356.3)" fill="#1e160a"/>
<path d="M172.3,358.1 L167.4,335.2 L170.4,358.4 Z" fill="#dccf88" stroke="#5a4818" stroke-width="0.35" opacity="0.85"/>
<ellipse cx="170.8" cy="355.0" rx="1.9" ry="1.0" transform="rotate(260 170.8 355.0)" fill="#8a7430" opacity="0.9"/>
<circle cx="169.6" cy="347.9" r="0.45" fill="#4a3a18"/>
<circle cx="168.9" cy="343.9" r="0.45" fill="#4a3a18"/>
<ellipse cx="171.4" cy="358.3" rx="1.35" ry="1.1" transform="rotate(260 171.4 358.3)" fill="#1e160a"/>
<path d="M188.0,347.1 L177.8,368.9 L189.6,347.9 Z" fill="#dccf88" stroke="#5a4818" stroke-width="0.35" opacity="0.85"/>
<ellipse cx="187.3" cy="350.4" rx="1.9" ry="1.0" transform="rotate(117 187.3 350.4)" fill="#8a7430" opacity="0.9"/>
<circle cx="183.8" cy="357.1" r="0.45" fill="#4a3a18"/>
<circle cx="182.0" cy="360.7" r="0.45" fill="#4a3a18"/>
<ellipse cx="188.8" cy="347.5" rx="1.35" ry="1.1" transform="rotate(117 188.8 347.5)" fill="#1e160a"/>
<path d="M170.1,366.3 L146.8,377.3 L170.9,368.0 Z" fill="#dccf88" stroke="#5a4818" stroke-width="0.35" opacity="0.85"/>
<ellipse cx="167.5" cy="368.5" rx="1.9" ry="1.0" transform="rotate(157 167.5 368.5)" fill="#8a7430" opacity="0.9"/>
<circle cx="159.9" cy="371.7" r="0.45" fill="#4a3a18"/>
<circle cx="155.8" cy="373.4" r="0.45" fill="#4a3a18"/>
<ellipse cx="170.5" cy="367.2" rx="1.35" ry="1.1" transform="rotate(157 170.5 367.2)" fill="#1e160a"/>
<path d="M190.9,369.3 L175.5,383.8 L192.1,370.7 Z" fill="#dccf88" stroke="#5a4818" stroke-width="0.35" opacity="0.85"/>
<ellipse cx="189.0" cy="372.1" rx="1.9" ry="1.0" transform="rotate(139 189.0 372.1)" fill="#8a7430" opacity="0.9"/>
<circle cx="184.3" cy="376.2" r="0.45" fill="#4a3a18"/>
<circle cx="181.6" cy="378.5" r="0.45" fill="#4a3a18"/>
<ellipse cx="191.5" cy="370.0" rx="1.35" ry="1.1" transform="rotate(139 191.5 370.0)" fill="#1e160a"/>
<path d="M167.9,351.6 L179.7,373.4 L169.6,350.7 Z" fill="#dccf88" stroke="#5a4818" stroke-width="0.35" opacity="0.85"/>
<ellipse cx="170.2" cy="354.1" rx="1.9" ry="1.0" transform="rotate(64 170.2 354.1)" fill="#8a7430" opacity="0.9"/>
<circle cx="173.7" cy="361.2" r="0.45" fill="#4a3a18"/>
<circle cx="175.5" cy="365.0" r="0.45" fill="#4a3a18"/>
<ellipse cx="168.8" cy="351.2" rx="1.35" ry="1.1" transform="rotate(64 168.8 351.2)" fill="#1e160a"/>
<ellipse cx="180.0" cy="359.4" rx="25.9" ry="20.6" fill="url(#dshade)"/>
</g>
<line x1="61.10" y1="250.10" x2="84.80" y2="250.10" stroke="#1a1a10" stroke-width="1.5" />
<text x="263.30" y="231.00" style="font-family:'Liberation Sans',Arial,sans-serif;font-size:11.5px;font-weight:bold" text-anchor="start" fill="#1a1a1a" stroke="#1a1a1a" stroke-width="0.35" >d</text>
<line x1="301.00" y1="228.00" x2="311.80" y2="228.00" stroke="#111" stroke-width="1.1" />
<circle cx="306.4" cy="228.0" r="1.1" fill="#111"/>
<text x="316.50" y="230.70" style="font-family:'Liberation Sans',Arial,sans-serif;font-size:7.6px;font-weight:normal" text-anchor="start" fill="#222" >Control</text>
<line x1="301.00" y1="241.00" x2="311.80" y2="241.00" stroke="#1cc41c" stroke-width="1.1" />
<circle cx="306.4" cy="241.0" r="1.1" fill="#1cc41c"/>
<text x="316.50" y="243.70" style="font-family:'Liberation Sans',Arial,sans-serif;font-size:7.6px;font-weight:normal" text-anchor="start" fill="#222" >200 &#956;g/ml PM</text>
<line x1="301.00" y1="253.50" x2="311.80" y2="253.50" stroke="#ff2a2a" stroke-width="1.1" />
<circle cx="306.4" cy="253.5" r="1.1" fill="#ff2a2a"/>
<text x="316.50" y="256.20" style="font-family:'Liberation Sans',Arial,sans-serif;font-size:7.6px;font-weight:normal" text-anchor="start" fill="#222" >400 &#956;g/ml PM</text>
<line x1="295.50" y1="246.80" x2="295.50" y2="333.10" stroke="#808080" stroke-width="0.9" />
<line x1="295.50" y1="333.10" x2="430.70" y2="333.10" stroke="#808080" stroke-width="0.9" />
<line x1="293.00" y1="333.10" x2="295.50" y2="333.10" stroke="#808080" stroke-width="0.9" />
<text x="291.00" y="336.00" style="font-family:'Liberation Sans',Arial,sans-serif;font-size:8.2px;font-weight:bold" text-anchor="end" fill="#1a1a1a" stroke="#1a1a1a" stroke-width="0.35" >0</text>
<line x1="293.00" y1="318.80" x2="295.50" y2="318.80" stroke="#808080" stroke-width="0.9" />
<text x="291.00" y="321.70" style="font-family:'Liberation Sans',Arial,sans-serif;font-size:8.2px;font-weight:bold" text-anchor="end" fill="#1a1a1a" stroke="#1a1a1a" stroke-width="0.35" >20</text>
<line x1="293.00" y1="304.50" x2="295.50" y2="304.50" stroke="#808080" stroke-width="0.9" />
<text x="291.00" y="307.40" style="font-family:'Liberation Sans',Arial,sans-serif;font-size:8.2px;font-weight:bold" text-anchor="end" fill="#1a1a1a" stroke="#1a1a1a" stroke-width="0.35" >40</text>
<line x1="293.00" y1="290.20" x2="295.50" y2="290.20" stroke="#808080" stroke-width="0.9" />
<text x="291.00" y="293.10" style="font-family:'Liberation Sans',Arial,sans-serif;font-size:8.2px;font-weight:bold" text-anchor="end" fill="#1a1a1a" stroke="#1a1a1a" stroke-width="0.35" >60</text>
<line x1="293.00" y1="275.90" x2="295.50" y2="275.90" stroke="#808080" stroke-width="0.9" />
<text x="291.00" y="278.80" style="font-family:'Liberation Sans',Arial,sans-serif;font-size:8.2px;font-weight:bold" text-anchor="end" fill="#1a1a1a" stroke="#1a1a1a" stroke-width="0.35" >80</text>
<line x1="293.00" y1="261.60" x2="295.50" y2="261.60" stroke="#808080" stroke-width="0.9" />
<text x="291.00" y="264.50" style="font-family:'Liberation Sans',Arial,sans-serif;font-size:8.2px;font-weight:bold" text-anchor="end" fill="#1a1a1a" stroke="#1a1a1a" stroke-width="0.35" >100</text>
<line x1="293.00" y1="247.30" x2="295.50" y2="247.30" stroke="#808080" stroke-width="0.9" />
<text x="291.00" y="250.20" style="font-family:'Liberation Sans',Arial,sans-serif;font-size:8.2px;font-weight:bold" text-anchor="end" fill="#1a1a1a" stroke="#1a1a1a" stroke-width="0.35" >120</text>
<line x1="295.50" y1="333.10" x2="295.50" y2="335.60" stroke="#808080" stroke-width="0.9" />
<text x="295.50" y="345.80" style="font-family:'Liberation Sans',Arial,sans-serif;font-size:8.2px;font-weight:bold" text-anchor="middle" fill="#1a1a1a" stroke="#1a1a1a" stroke-width="0.35" >24</text>
<line x1="340.30" y1="333.10" x2="340.30" y2="335.60" stroke="#808080" stroke-width="0.9" />
<text x="340.30" y="345.80" style="font-family:'Liberation Sans',Arial,sans-serif;font-size:8.2px;font-weight:bold" text-anchor="middle" fill="#1a1a1a" stroke="#1a1a1a" stroke-width="0.35" >48</text>
<line x1="385.60" y1="333.10" x2="385.60" y2="335.60" stroke="#808080" stroke-width="0.9" />
<text x="385.60" y="345.80" style="font-family:'Liberation Sans',Arial,sans-serif;font-size:8.2px;font-weight:bold" text-anchor="middle" fill="#1a1a1a" stroke="#1a1a1a" stroke-width="0.35" >72</text>
<line x1="430.70" y1="333.10" x2="430.70" y2="335.60" stroke="#808080" stroke-width="0.9" />
<text x="430.70" y="345.80" style="font-family:'Liberation Sans',Arial,sans-serif;font-size:8.2px;font-weight:bold" text-anchor="middle" fill="#1a1a1a" stroke="#1a1a1a" stroke-width="0.35" >96</text>
<text x="444.30" y="345.80" style="font-family:'Liberation Sans',Arial,sans-serif;font-size:8.2px;font-weight:bold" text-anchor="start" fill="#1a1a1a" stroke="#1a1a1a" stroke-width="0.35" >hpf</text>
<text x="271.19" y="288.30" transform="rotate(-90 271.19 288.30)" style="font-family:'Liberation Sans',Arial,sans-serif;font-size:8.3px;font-weight:bold" text-anchor="middle" fill="#1a1a1a" stroke="#1a1a1a" stroke-width="0.35" textLength="67.6" lengthAdjust="spacingAndGlyphs">Hatching rate (%)</text>
<line x1="340.30" y1="261.80" x2="340.30" y2="280.00" stroke="#777" stroke-width="0.7" />
<line x1="338.50" y1="261.80" x2="342.10" y2="261.80" stroke="#777" stroke-width="0.6" />
<line x1="340.30" y1="308.00" x2="340.30" y2="333.00" stroke="#ff8a8a" stroke-width="0.7" />
<line x1="338.50" y1="308.00" x2="342.10" y2="308.00" stroke="#ff8a8a" stroke-width="0.6" />
<line x1="385.60" y1="257.00" x2="385.60" y2="274.50" stroke="#ff8a8a" stroke-width="0.7" />
<line x1="383.80" y1="257.00" x2="387.40" y2="257.00" stroke="#ff8a8a" stroke-width="0.6" />
<line x1="383.80" y1="274.50" x2="387.40" y2="274.50" stroke="#ff8a8a" stroke-width="0.6" />
<polyline points="295.50,333.10 340.30,320.95 385.60,266.61 430.70,261.60" fill="none" stroke="#ff2020" stroke-width="1.35" stroke-linejoin="round"/>
<polyline points="295.50,333.10 340.30,290.92 385.60,261.60 430.70,261.60" fill="none" stroke="#18c418" stroke-width="1.35" stroke-linejoin="round"/>
<polyline points="295.50,333.10 340.30,271.61 385.60,261.60 430.70,261.60" fill="none" stroke="#111" stroke-width="1.3" stroke-linejoin="round"/>
<circle cx="295.5" cy="333.1" r="1.2" fill="#ff2020"/>
<circle cx="340.3" cy="320.9" r="1.2" fill="#ff2020"/>
<circle cx="385.6" cy="266.6" r="1.2" fill="#ff2020"/>
<circle cx="430.7" cy="261.6" r="1.2" fill="#ff2020"/>
<circle cx="295.5" cy="333.1" r="1.2" fill="#18c418"/>
<circle cx="340.3" cy="290.9" r="1.2" fill="#18c418"/>
<circle cx="385.6" cy="261.6" r="1.2" fill="#18c418"/>
<circle cx="430.7" cy="261.6" r="1.2" fill="#18c418"/>
<circle cx="295.5" cy="333.1" r="1.2" fill="#111"/>
<circle cx="340.3" cy="271.6" r="1.2" fill="#111"/>
<circle cx="385.6" cy="261.6" r="1.2" fill="#111"/>
<circle cx="430.7" cy="261.6" r="1.2" fill="#111"/>
<text x="327.35" y="298.63" style="font-family:'Liberation Sans',Arial,sans-serif;font-size:8.5px;font-weight:bold;letter-spacing:0.49px" fill="#2a2a2a" stroke="#2a2a2a" stroke-width="0.25" stroke-linejoin="round">**</text>
<text x="331.75" y="325.33" style="font-family:'Liberation Sans',Arial,sans-serif;font-size:8.5px;font-weight:bold;letter-spacing:0.19px" fill="#2a2a2a" stroke="#2a2a2a" stroke-width="0.25" stroke-linejoin="round">***</text>
<text x="14.00" y="428.00" style="font-family:'Liberation Sans',Arial,sans-serif;font-size:11.5px;font-weight:bold" text-anchor="start" fill="#1a1a1a" stroke="#1a1a1a" stroke-width="0.35" >e</text>
<line x1="48.00" y1="430.00" x2="59.20" y2="430.00" stroke="#111" stroke-width="1.1" />
<circle cx="53.6" cy="430.0" r="1.1" fill="#111"/>
<text x="62.80" y="432.70" style="font-family:'Liberation Sans',Arial,sans-serif;font-size:7.6px;font-weight:normal" text-anchor="start" fill="#222" >Control</text>
<line x1="48.00" y1="442.00" x2="59.20" y2="442.00" stroke="#1cc41c" stroke-width="1.1" />
<circle cx="53.6" cy="442.0" r="1.1" fill="#1cc41c"/>
<text x="62.80" y="444.70" style="font-family:'Liberation Sans',Arial,sans-serif;font-size:7.6px;font-weight:normal" text-anchor="start" fill="#222" >200 &#956;g/ml PM</text>
<line x1="48.00" y1="455.20" x2="59.20" y2="455.20" stroke="#ff2a2a" stroke-width="1.1" />
<circle cx="53.6" cy="455.2" r="1.1" fill="#ff2a2a"/>
<text x="62.80" y="457.90" style="font-family:'Liberation Sans',Arial,sans-serif;font-size:7.6px;font-weight:normal" text-anchor="start" fill="#222" >400 &#956;g/ml PM</text>
<line x1="42.00" y1="456.70" x2="42.00" y2="542.80" stroke="#808080" stroke-width="0.9" />
<line x1="42.00" y1="542.80" x2="178.20" y2="542.80" stroke="#808080" stroke-width="0.9" />
<line x1="39.50" y1="542.80" x2="42.00" y2="542.80" stroke="#808080" stroke-width="0.9" />
<text x="37.50" y="545.70" style="font-family:'Liberation Sans',Arial,sans-serif;font-size:8.2px;font-weight:bold" text-anchor="end" fill="#1a1a1a" stroke="#1a1a1a" stroke-width="0.35" >0</text>
<line x1="39.50" y1="528.53" x2="42.00" y2="528.53" stroke="#808080" stroke-width="0.9" />
<text x="37.50" y="531.43" style="font-family:'Liberation Sans',Arial,sans-serif;font-size:8.2px;font-weight:bold" text-anchor="end" fill="#1a1a1a" stroke="#1a1a1a" stroke-width="0.35" >20</text>
<line x1="39.50" y1="514.27" x2="42.00" y2="514.27" stroke="#808080" stroke-width="0.9" />
<text x="37.50" y="517.17" style="font-family:'Liberation Sans',Arial,sans-serif;font-size:8.2px;font-weight:bold" text-anchor="end" fill="#1a1a1a" stroke="#1a1a1a" stroke-width="0.35" >40</text>
<line x1="39.50" y1="500.00" x2="42.00" y2="500.00" stroke="#808080" stroke-width="0.9" />
<text x="37.50" y="502.90" style="font-family:'Liberation Sans',Arial,sans-serif;font-size:8.2px;font-weight:bold" text-anchor="end" fill="#1a1a1a" stroke="#1a1a1a" stroke-width="0.35" >60</text>
<line x1="39.50" y1="485.73" x2="42.00" y2="485.73" stroke="#808080" stroke-width="0.9" />
<text x="37.50" y="488.63" style="font-family:'Liberation Sans',Arial,sans-serif;font-size:8.2px;font-weight:bold" text-anchor="end" fill="#1a1a1a" stroke="#1a1a1a" stroke-width="0.35" >80</text>
<line x1="39.50" y1="471.47" x2="42.00" y2="471.47" stroke="#808080" stroke-width="0.9" />
<text x="37.50" y="474.37" style="font-family:'Liberation Sans',Arial,sans-serif;font-size:8.2px;font-weight:bold" text-anchor="end" fill="#1a1a1a" stroke="#1a1a1a" stroke-width="0.35" >100</text>
<line x1="39.50" y1="457.20" x2="42.00" y2="457.20" stroke="#808080" stroke-width="0.9" />
<text x="37.50" y="460.10" style="font-family:'Liberation Sans',Arial,sans-serif;font-size:8.2px;font-weight:bold" text-anchor="end" fill="#1a1a1a" stroke="#1a1a1a" stroke-width="0.35" >120</text>
<line x1="42.00" y1="542.80" x2="42.00" y2="545.30" stroke="#808080" stroke-width="0.9" />
<text x="42.00" y="555.00" style="font-family:'Liberation Sans',Arial,sans-serif;font-size:8.2px;font-weight:bold" text-anchor="middle" fill="#1a1a1a" stroke="#1a1a1a" stroke-width="0.35" >24</text>
<line x1="88.00" y1="542.80" x2="88.00" y2="545.30" stroke="#808080" stroke-width="0.9" />
<text x="88.00" y="555.00" style="font-family:'Liberation Sans',Arial,sans-serif;font-size:8.2px;font-weight:bold" text-anchor="middle" fill="#1a1a1a" stroke="#1a1a1a" stroke-width="0.35" >48</text>
<line x1="133.20" y1="542.80" x2="133.20" y2="545.30" stroke="#808080" stroke-width="0.9" />
<text x="133.20" y="555.00" style="font-family:'Liberation Sans',Arial,sans-serif;font-size:8.2px;font-weight:bold" text-anchor="middle" fill="#1a1a1a" stroke="#1a1a1a" stroke-width="0.35" >72</text>
<line x1="178.20" y1="542.80" x2="178.20" y2="545.30" stroke="#808080" stroke-width="0.9" />
<text x="178.20" y="555.00" style="font-family:'Liberation Sans',Arial,sans-serif;font-size:8.2px;font-weight:bold" text-anchor="middle" fill="#1a1a1a" stroke="#1a1a1a" stroke-width="0.35" >96</text>
<text x="192.00" y="555.00" style="font-family:'Liberation Sans',Arial,sans-serif;font-size:8.2px;font-weight:bold" text-anchor="start" fill="#1a1a1a" stroke="#1a1a1a" stroke-width="0.35" >hpf</text>
<text x="18.46" y="498.60" transform="rotate(-90 18.46 498.60)" style="font-family:'Liberation Sans',Arial,sans-serif;font-size:8.5px;font-weight:bold" text-anchor="middle" fill="#1a1a1a" stroke="#1a1a1a" stroke-width="0.35" textLength="86" lengthAdjust="spacingAndGlyphs">Malformation rate (%)</text>
<line x1="88.00" y1="464.33" x2="88.00" y2="542.80" stroke="#ff9a9a" stroke-width="0.7" />
<line x1="86.20" y1="464.33" x2="89.80" y2="464.33" stroke="#ff9a9a" stroke-width="0.6" />
<line x1="88.00" y1="510.70" x2="88.00" y2="534.95" stroke="#7fd67f" stroke-width="0.7" />
<line x1="86.20" y1="510.70" x2="89.80" y2="510.70" stroke="#7fd67f" stroke-width="0.6" />
<line x1="86.20" y1="534.95" x2="89.80" y2="534.95" stroke="#7fd67f" stroke-width="0.6" />
<line x1="133.20" y1="495.72" x2="133.20" y2="533.53" stroke="#7fd67f" stroke-width="0.7" />
<line x1="131.40" y1="495.72" x2="135.00" y2="495.72" stroke="#7fd67f" stroke-width="0.6" />
<line x1="131.40" y1="533.53" x2="135.00" y2="533.53" stroke="#7fd67f" stroke-width="0.6" />
<line x1="178.20" y1="495.72" x2="178.20" y2="533.53" stroke="#7fd67f" stroke-width="0.7" />
<line x1="176.40" y1="495.72" x2="180.00" y2="495.72" stroke="#7fd67f" stroke-width="0.6" />
<line x1="176.40" y1="533.53" x2="180.00" y2="533.53" stroke="#7fd67f" stroke-width="0.6" />
<line x1="178.20" y1="535.67" x2="178.20" y2="542.80" stroke="#555" stroke-width="0.6" />
<polyline points="42.00,542.80 88.00,497.86 133.20,472.89 178.20,471.47" fill="none" stroke="#ff2020" stroke-width="1.4" stroke-linejoin="round"/>
<polyline points="42.00,542.80 88.00,523.54 133.20,514.98 178.20,514.27" fill="none" stroke="#18c418" stroke-width="1.4" stroke-linejoin="round"/>
<polyline points="42.00,542.80 88.00,542.80 133.20,542.80 178.20,540.66" fill="none" stroke="#111" stroke-width="1.1" stroke-linejoin="round"/>
<circle cx="42.0" cy="542.8" r="1.2" fill="#ff2020"/>
<circle cx="88.0" cy="497.9" r="1.2" fill="#ff2020"/>
<circle cx="133.2" cy="472.9" r="1.2" fill="#ff2020"/>
<circle cx="178.2" cy="471.5" r="1.2" fill="#ff2020"/>
<circle cx="42.0" cy="542.8" r="1.2" fill="#18c418"/>
<circle cx="88.0" cy="523.5" r="1.2" fill="#18c418"/>
<circle cx="133.2" cy="515.0" r="1.2" fill="#18c418"/>
<circle cx="178.2" cy="514.3" r="1.2" fill="#18c418"/>
<circle cx="42.0" cy="542.8" r="1.2" fill="#111"/>
<circle cx="88.0" cy="542.8" r="1.2" fill="#111"/>
<circle cx="133.2" cy="542.8" r="1.2" fill="#111"/>
<circle cx="178.2" cy="540.7" r="1.2" fill="#111"/>
<text x="82.75" y="499.53" style="font-family:'Liberation Sans',Arial,sans-serif;font-size:8.5px;font-weight:bold;letter-spacing:0.29px" fill="#2a2a2a" stroke="#2a2a2a" stroke-width="0.25" stroke-linejoin="round">***</text>
<text x="127.95" y="474.33" style="font-family:'Liberation Sans',Arial,sans-serif;font-size:8.5px;font-weight:bold;letter-spacing:0.29px" fill="#2a2a2a" stroke="#2a2a2a" stroke-width="0.25" stroke-linejoin="round">***</text>
<text x="173.35" y="474.33" style="font-family:'Liberation Sans',Arial,sans-serif;font-size:8.5px;font-weight:bold;letter-spacing:0.29px" fill="#2a2a2a" stroke="#2a2a2a" stroke-width="0.25" stroke-linejoin="round">***</text>
<text x="130.35" y="517.13" style="font-family:'Liberation Sans',Arial,sans-serif;font-size:8.5px;font-weight:bold;letter-spacing:0.00px" fill="#2a2a2a" stroke="#2a2a2a" stroke-width="0.25" stroke-linejoin="round">*</text>
<text x="174.85" y="517.13" style="font-family:'Liberation Sans',Arial,sans-serif;font-size:8.5px;font-weight:bold;letter-spacing:0.00px" fill="#2a2a2a" stroke="#2a2a2a" stroke-width="0.25" stroke-linejoin="round">*</text>
<text x="257.60" y="436.00" style="font-family:'Liberation Sans',Arial,sans-serif;font-size:11.5px;font-weight:bold" text-anchor="start" fill="#1a1a1a" stroke="#1a1a1a" stroke-width="0.35" >f</text>
<text x="427.80" y="430.90" style="font-family:'Liberation Sans',Arial,sans-serif;font-size:8.4px;font-weight:bold" text-anchor="middle" fill="#1a1a1a" stroke="#1a1a1a" stroke-width="0.12" textLength="97.4" lengthAdjust="spacingAndGlyphs" >PM concentration <tspan style="font-family:'Liberation Serif',serif;font-size:9.4px">(&#956;g/ml)</tspan></text>
<line x1="364.60" y1="435.30" x2="490.00" y2="435.30" stroke="#999" stroke-width="0.8" />
<text x="312.20" y="446.20" style="font-family:'Liberation Sans',Arial,sans-serif;font-size:8.0px;font-weight:bold" text-anchor="middle" fill="#1a1a1a" stroke="#1a1a1a" stroke-width="0.12" textLength="27.5" lengthAdjust="spacingAndGlyphs" >Control</text>
<text x="388.00" y="446.20" style="font-family:'Liberation Sans',Arial,sans-serif;font-size:8.0px;font-weight:bold" text-anchor="middle" fill="#1a1a1a" stroke="#1a1a1a" stroke-width="0.12" >200</text>
<text x="464.40" y="446.20" style="font-family:'Liberation Sans',Arial,sans-serif;font-size:8.0px;font-weight:bold" text-anchor="middle" fill="#1a1a1a" stroke="#1a1a1a" stroke-width="0.12" >400</text>
<rect x="275.80" y="450.40" width="72.20" height="51.00" fill="url(#fg0)" stroke="none" stroke-width="0" />
<rect x="351.60" y="450.90" width="72.30" height="50.60" fill="url(#fg1)" stroke="none" stroke-width="0" />
<rect x="428.60" y="451.20" width="72.30" height="50.30" fill="url(#fg2)" stroke="none" stroke-width="0" />
<g transform="translate(281.60,465.10) rotate(-6.83) scale(0.5217)">
<path d="M-6,1 L-6,-3 L-3,-6 L3,-7.5 L10,-7 L20,-5.2 L35,-3.8 L55,-2.7 L80,-1.5 L99,-0.6 L102,0 L99,0.7 L80,1.5 L58,2.4 L42,3.3 L34,6.2 L26,8.5 L14,9.0 L6,7.5 L1,6 L-4,4.2 Z" fill="#dcd6b6" stroke="#3a3018" stroke-width="1.34" stroke-linejoin="round" fill-opacity="0.9"/>
<path d="M4,-6.5 C20,-5.2 50,-3 99,-0.4" stroke="#e0c860" stroke-width="1.34" fill="none" opacity="0.8"/>
<path d="M8,2.5 C14,1 26,1 36,3.2 C32,6.5 26,8.3 16,8.5 C10,8 8,6 8,2.5 Z" fill="#a09c80" stroke="#3a3018" stroke-width="0.86"/>
<path d="M30,2.4 L99,0.5" stroke="#3a3018" stroke-width="1.15" opacity="0.8" fill="none"/>
<ellipse cx="1" cy="-1.5" rx="6" ry="5" fill="#3a3018" opacity="0.55"/>
<ellipse cx="0" cy="0.3" rx="4.4" ry="4.0" fill="#100c04"/>
</g>
<g transform="translate(285.90,475.60) rotate(1.62) scale(0.5292)">
<path d="M-6,1 L-6,-3 L-3,-6 L3,-7.5 L10,-7 L20,-5.2 L35,-3.8 L55,-2.7 L80,-1.5 L99,-0.6 L102,0 L99,0.7 L80,1.5 L58,2.4 L42,3.3 L34,6.2 L26,8.5 L14,9.0 L6,7.5 L1,6 L-4,4.2 Z" fill="#dcd6b6" stroke="#3a3018" stroke-width="1.32" stroke-linejoin="round" fill-opacity="0.9"/>
<path d="M4,-6.5 C20,-5.2 50,-3 99,-0.4" stroke="#e0c860" stroke-width="1.32" fill="none" opacity="0.8"/>
<path d="M8,2.5 C14,1 26,1 36,3.2 C32,6.5 26,8.3 16,8.5 C10,8 8,6 8,2.5 Z" fill="#a09c80" stroke="#3a3018" stroke-width="0.85"/>
<path d="M30,2.4 L99,0.5" stroke="#3a3018" stroke-width="1.13" opacity="0.8" fill="none"/>
<ellipse cx="1" cy="-1.5" rx="6" ry="5" fill="#3a3018" opacity="0.55"/>
<ellipse cx="0" cy="0.3" rx="4.4" ry="4.0" fill="#100c04"/>
</g>
<g transform="translate(285.90,490.10) rotate(-1.58) scale(0.5062)">
<path d="M-6,1 L-6,-3 L-3,-6 L3,-7.5 L10,-7 L20,-5.2 L35,-3.8 L55,-2.7 L80,-1.5 L99,-0.6 L102,0 L99,0.7 L80,1.5 L58,2.4 L42,3.3 L34,6.2 L26,8.5 L14,9.0 L6,7.5 L1,6 L-4,4.2 Z" fill="#dcd6b6" stroke="#3a3018" stroke-width="1.38" stroke-linejoin="round" fill-opacity="0.9"/>
<path d="M4,-6.5 C20,-5.2 50,-3 99,-0.4" stroke="#e0c860" stroke-width="1.38" fill="none" opacity="0.8"/>
<path d="M8,2.5 C14,1 26,1 36,3.2 C32,6.5 26,8.3 16,8.5 C10,8 8,6 8,2.5 Z" fill="#a09c80" stroke="#3a3018" stroke-width="0.89"/>
<path d="M30,2.4 L99,0.5" stroke="#3a3018" stroke-width="1.19" opacity="0.8" fill="none"/>
<ellipse cx="1" cy="-1.5" rx="6" ry="5" fill="#3a3018" opacity="0.55"/>
<ellipse cx="0" cy="0.3" rx="4.4" ry="4.0" fill="#100c04"/>
</g>
<line x1="280.00" y1="499.10" x2="289.80" y2="499.10" stroke="#111" stroke-width="1.3" />
<g transform="translate(362.50,461.80) rotate(8.59) scale(0.5158)">
<path d="M-6,1 L-6,-3 L-3,-6 L3,-7.5 L10,-7 L20,-5.2 L35,-3.8 L55,-2.7 L80,-1.5 L99,-0.6 L102,0 L99,0.7 L80,1.5 L58,2.4 L42,3.3 L34,6.2 L26,8.5 L14,9.0 L6,7.5 L1,6 L-4,4.2 Z" fill="#cfc08a" stroke="#3a3018" stroke-width="1.36" stroke-linejoin="round" fill-opacity="0.9"/>
<path d="M4,-6.5 C20,-5.2 50,-3 99,-0.4" stroke="#e0c860" stroke-width="1.36" fill="none" opacity="0.8"/>
<path d="M8,2.5 C14,1 26,1 36,3.2 C32,6.5 26,8.3 16,8.5 C10,8 8,6 8,2.5 Z" fill="#b4b098" stroke="#3a3018" stroke-width="0.87"/>
<path d="M30,2.4 L99,0.5" stroke="#3a3018" stroke-width="1.16" opacity="0.8" fill="none"/>
<ellipse cx="1" cy="-1.5" rx="6" ry="5" fill="#3a3018" opacity="0.55"/>
<ellipse cx="0" cy="0.3" rx="4.4" ry="4.0" fill="#100c04"/>
</g>
<g transform="translate(364.00,474.20) rotate(0.49) scale(0.4650)">
<path d="M-6,1 L-6,-3 L-3,-6 L3,-7.5 L10,-7 L20,-5.2 L35,-3.8 L55,-2.7 L80,-1.5 L99,-0.6 L102,0 L99,0.7 L80,1.5 L58,2.4 L42,3.3 L34,6.2 L26,8.5 L14,9.0 L6,7.5 L1,6 L-4,4.2 Z" fill="#cfc08a" stroke="#3a3018" stroke-width="1.51" stroke-linejoin="round" fill-opacity="0.9"/>
<path d="M4,-6.5 C20,-5.2 50,-3 99,-0.4" stroke="#e0c860" stroke-width="1.51" fill="none" opacity="0.8"/>
<path d="M8,2.5 C14,1 26,1 36,3.2 C32,6.5 26,8.3 16,8.5 C10,8 8,6 8,2.5 Z" fill="#d8d6c8" stroke="#3a3018" stroke-width="0.97"/>
<path d="M30,2.4 L99,0.5" stroke="#3a3018" stroke-width="1.29" opacity="0.8" fill="none"/>
<ellipse cx="1" cy="-1.5" rx="6" ry="5" fill="#3a3018" opacity="0.55"/>
<ellipse cx="0" cy="0.3" rx="4.4" ry="4.0" fill="#100c04"/>
</g>
<g transform="translate(364.70,490.20) rotate(-3.01) scale(0.4957)">
<path d="M-6,1 L-6,-3 L-3,-6 L3,-7.5 L10,-7 L20,-5.2 L35,-3.8 L55,-2.7 L80,-1.5 L99,-0.6 L102,0 L99,0.7 L80,1.5 L58,2.4 L42,3.3 L34,6.2 L26,8.5 L14,9.0 L6,7.5 L1,6 L-4,4.2 Z" fill="#cfc08a" stroke="#3a3018" stroke-width="1.41" stroke-linejoin="round" fill-opacity="0.9"/>
<path d="M4,-6.5 C20,-5.2 50,-3 99,-0.4" stroke="#e0c860" stroke-width="1.41" fill="none" opacity="0.8"/>
<path d="M8,2.5 C14,1 26,1 36,3.2 C32,6.5 26,8.3 16,8.5 C10,8 8,6 8,2.5 Z" fill="#b4b098" stroke="#3a3018" stroke-width="0.91"/>
<path d="M30,2.4 L99,0.5" stroke="#3a3018" stroke-width="1.21" opacity="0.8" fill="none"/>
<ellipse cx="1" cy="-1.5" rx="6" ry="5" fill="#3a3018" opacity="0.55"/>
<ellipse cx="0" cy="0.3" rx="4.4" ry="4.0" fill="#100c04"/>
</g>
<g transform="translate(437.60,461.80) rotate(3.21) scale(0.5178)">
<path d="M-6,1 L-6,-3 L-3,-6 L3,-7.5 L10,-7 L20,-5.2 L35,-3.8 L55,-2.7 L80,-1.5 L99,-0.6 L102,0 L99,0.7 L80,1.5 L58,2.4 L42,3.3 L34,6.2 L26,8.5 L14,9.0 L6,7.5 L1,6 L-4,4.2 Z" fill="#cfc08a" stroke="#3a3018" stroke-width="1.35" stroke-linejoin="round" fill-opacity="0.9"/>
<path d="M4,-6.5 C20,-5.2 50,-3 99,-0.4" stroke="#e0c860" stroke-width="1.35" fill="none" opacity="0.8"/>
<path d="M8,2.5 C14,1 26,1 36,3.2 C32,6.5 26,8.3 16,8.5 C10,8 8,6 8,2.5 Z" fill="#e2dfcc" stroke="#3a3018" stroke-width="0.87"/>
<path d="M30,2.4 L99,0.5" stroke="#3a3018" stroke-width="1.16" opacity="0.8" fill="none"/>
<path d="M-6,1 L-6,-3 L-3,-6 L3,-7.5 L10,-7 L20,-5.2 L35,-3.8 L55,-2.7 L80,-1.5 L99,-0.6 L102,0 L99,0.7 L80,1.5 L58,2.4 L42,3.3 L34,6.2 L26,8.5 L14,9.0 L6,7.5 L1,6 L-4,4.2 Z" fill="#2a2410" opacity="0.15"/>
<ellipse cx="1" cy="-1.5" rx="6" ry="5" fill="#3a3018" opacity="0.55"/>
<ellipse cx="0" cy="0.3" rx="4.4" ry="4.0" fill="#100c04"/>
</g>
<g transform="translate(441.30,474.90) rotate(-3.26) scale(0.5098)">
<path d="M-6,1 L-6,-3 L-3,-6 L3,-7.5 L10,-7 L20,-5.2 L35,-3.8 L55,-2.7 L80,-1.5 L99,-0.6 L102,0 L99,0.7 L80,1.5 L58,2.4 L42,3.3 L34,6.2 L26,8.5 L14,9.0 L6,7.5 L1,6 L-4,4.2 Z" fill="#cfc08a" stroke="#3a3018" stroke-width="1.37" stroke-linejoin="round" fill-opacity="0.9"/>
<path d="M4,-6.5 C20,-5.2 50,-3 99,-0.4" stroke="#e0c860" stroke-width="1.37" fill="none" opacity="0.8"/>
<path d="M8,2.5 C14,1 26,1 36,3.2 C32,6.5 26,8.3 16,8.5 C10,8 8,6 8,2.5 Z" fill="#e2dfcc" stroke="#3a3018" stroke-width="0.88"/>
<path d="M30,2.4 L99,0.5" stroke="#3a3018" stroke-width="1.18" opacity="0.8" fill="none"/>
<path d="M-6,1 L-6,-3 L-3,-6 L3,-7.5 L10,-7 L20,-5.2 L35,-3.8 L55,-2.7 L80,-1.5 L99,-0.6 L102,0 L99,0.7 L80,1.5 L58,2.4 L42,3.3 L34,6.2 L26,8.5 L14,9.0 L6,7.5 L1,6 L-4,4.2 Z" fill="#2a2410" opacity="0.15"/>
<ellipse cx="1" cy="-1.5" rx="6" ry="5" fill="#3a3018" opacity="0.55"/>
<ellipse cx="0" cy="0.3" rx="4.4" ry="4.0" fill="#100c04"/>
</g>
<g transform="translate(439.10,490.20) rotate(-2.09) scale(0.4943)">
<path d="M-6,1 L-6,-3 L-3,-6 L3,-7.5 L10,-7 L20,-5.2 L35,-3.8 L55,-2.7 L80,-1.5 L99,-0.6 L102,0 L99,0.7 L80,1.5 L58,2.4 L42,3.3 L34,6.2 L26,8.5 L14,9.0 L6,7.5 L1,6 L-4,4.2 Z" fill="#cfc08a" stroke="#3a3018" stroke-width="1.42" stroke-linejoin="round" fill-opacity="0.9"/>
<path d="M4,-6.5 C20,-5.2 50,-3 99,-0.4" stroke="#e0c860" stroke-width="1.42" fill="none" opacity="0.8"/>
<path d="M8,2.5 C14,1 26,1 36,3.2 C32,6.5 26,8.3 16,8.5 C10,8 8,6 8,2.5 Z" fill="#e2dfcc" stroke="#3a3018" stroke-width="0.91"/>
<path d="M30,2.4 L99,0.5" stroke="#3a3018" stroke-width="1.21" opacity="0.8" fill="none"/>
<path d="M-6,1 L-6,-3 L-3,-6 L3,-7.5 L10,-7 L20,-5.2 L35,-3.8 L55,-2.7 L80,-1.5 L99,-0.6 L102,0 L99,0.7 L80,1.5 L58,2.4 L42,3.3 L34,6.2 L26,8.5 L14,9.0 L6,7.5 L1,6 L-4,4.2 Z" fill="#2a2410" opacity="0.15"/>
<ellipse cx="1" cy="-1.5" rx="6" ry="5" fill="#3a3018" opacity="0.55"/>
<ellipse cx="0" cy="0.3" rx="4.4" ry="4.0" fill="#100c04"/>
</g>
<g transform="rotate(-15 360.85 481.6)"><path d="M357.0,480.1 L361.09999999999997,480.1 L361.09999999999997,478.3 L364.7,481.6 L361.09999999999997,484.90000000000003 L361.09999999999997,483.1 L357.0,483.1 Z" fill="#0c2c78" stroke="#2a9cf0" stroke-width="0.7"/></g>
<g transform="rotate(-15 438.65 483.2)"><path d="M435.0,481.7 L438.7,481.7 L438.7,479.9 L442.3,483.2 L438.7,486.5 L438.7,484.7 L435.0,484.7 Z" fill="#0c2c78" stroke="#2a9cf0" stroke-width="0.7"/></g>
<g transform="rotate(-15 438.65 498.3)"><path d="M435.0,496.8 L438.7,496.8 L438.7,495.0 L442.3,498.3 L438.7,501.6 L438.7,499.8 L435.0,499.8 Z" fill="#0c2c78" stroke="#2a9cf0" stroke-width="0.7"/></g>
<path d="M455.8,481.2 L462.4,482.2 L459.5,486.1 Z" fill="#c00a14" stroke="#3a4aa0" stroke-width="0.4"/>
<path d="M455.8,496.7 L462.4,497.5 L459.5,501.1 Z" fill="#c00a14" stroke="#3a4aa0" stroke-width="0.4"/>
<g transform="translate(451.2,457.0) rotate(145)"><path d="M-4,-1.4 L0.6,-1.4 L0.6,-3 L4,0 L0.6,3 L0.6,1.4 L-4,1.4 Z" fill="#f4f010" stroke="#4a4a08" stroke-width="0.5"/></g>
<g transform="rotate(0 286.6 509.6)"><path d="M281.1,508.1 L288.5,508.1 L288.5,506.3 L292.1,509.6 L288.5,512.9 L288.5,511.1 L281.1,511.1 Z" fill="#0c2c78" stroke="#2a9cf0" stroke-width="0.7"/></g>
<text x="294.50" y="511.80" style="font-family:'Liberation Sans',Arial,sans-serif;font-size:8.4px;font-weight:bold" text-anchor="start" fill="#111" textLength="69.4" lengthAdjust="spacingAndGlyphs" >pericardiac edema</text>
<path d="M282.0,517.3 L292.4,520.0 L282.0,522.7 L283.5,520.0 Z" fill="#c00a14" stroke="#3a4aa0" stroke-width="0.5"/>
<text x="294.50" y="522.90" style="font-family:'Liberation Sans',Arial,sans-serif;font-size:8.4px;font-weight:bold" text-anchor="start" fill="#111" textLength="61.8" lengthAdjust="spacingAndGlyphs" >Yolk sack edema</text>
<path d="M281.2,530.9 L287.6,530.9 L287.6,528.9 L291.6,532.4 L287.6,535.9 L287.6,533.9 L281.2,533.9 Z" fill="#f4f010" stroke="#4a4a08" stroke-width="0.6"/>
<text x="294.50" y="535.40" style="font-family:'Liberation Sans',Arial,sans-serif;font-size:8.4px;font-weight:bold" text-anchor="start" fill="#111" textLength="58.5" lengthAdjust="spacingAndGlyphs" >Trunk curvature</text>
<text x="170.50" y="606.00" style="font-family:'Liberation Serif',serif;font-size:11px;font-weight:bold" text-anchor="start" fill="#1a1a1a" stroke="#1a1a1a" stroke-width="0.35" >g</text>
<rect x="177.00" y="620.00" width="306.40" height="68.40" fill="url(#gg)" stroke="none" stroke-width="0" />
<line x1="184.70" y1="626.20" x2="200.80" y2="626.20" stroke="#111" stroke-width="1.2" />
<path d="M218.8,666.3 C219,660 224,655 232,653.4 L262,649.6 L300,644.3 L360,636 L420,627.6 C440,625 447,625.5 449.8,629.5 C449,632 446,633 440,634.5 L420,640.5 L390,648 L360,656 C345,663 320,673 300,680.5 C285,685 268,685 258,682.5 L240,680 C228,680 220,674 218.8,666.3 Z" fill="#ccc8aa" stroke="#4e4a34" stroke-width="0.9"/>
<path d="M262,656 L360,647 L420,636 L446,631 L440,634.5 L420,640.5 L390,648 L360,656 C340,660 300,662 262,662 Z" fill="#aeaa8e" opacity="0.9"/>
<path d="M250,652.5 L300,646.5 L360,638.5 L420,630 L446,627.8 L446,630 L420,633.5 L360,642.5 L300,650.5 L250,656.5 Z" fill="#ebe9d8"/>
<path d="M258.0,648.4 l2.2,2.2 l-2.2,2.2" stroke="#a29e80" stroke-width="0.7" fill="none"/>
<path d="M262.2,647.9 l2.2,2.2 l-2.2,2.2" stroke="#a29e80" stroke-width="0.7" fill="none"/>
<path d="M266.4,647.4 l2.2,2.2 l-2.2,2.2" stroke="#a29e80" stroke-width="0.7" fill="none"/>
<path d="M270.6,646.8 l2.2,2.2 l-2.2,2.2" stroke="#a29e80" stroke-width="0.7" fill="none"/>
<path d="M274.8,646.3 l2.2,2.2 l-2.2,2.2" stroke="#a29e80" stroke-width="0.7" fill="none"/>
<path d="M279.0,645.8 l2.2,2.2 l-2.2,2.2" stroke="#a29e80" stroke-width="0.7" fill="none"/>
<path d="M283.2,645.3 l2.2,2.2 l-2.2,2.2" stroke="#a29e80" stroke-width="0.7" fill="none"/>
<path d="M287.4,644.8 l2.2,2.2 l-2.2,2.2" stroke="#a29e80" stroke-width="0.7" fill="none"/>
<path d="M291.6,644.3 l2.2,2.2 l-2.2,2.2" stroke="#a29e80" stroke-width="0.7" fill="none"/>
<path d="M295.8,643.7 l2.2,2.2 l-2.2,2.2" stroke="#a29e80" stroke-width="0.7" fill="none"/>
<path d="M300.0,643.2 l2.2,2.2 l-2.2,2.2" stroke="#a29e80" stroke-width="0.7" fill="none"/>
<path d="M304.2,642.7 l2.2,2.2 l-2.2,2.2" stroke="#a29e80" stroke-width="0.7" fill="none"/>
<path d="M308.4,642.2 l2.2,2.2 l-2.2,2.2" stroke="#a29e80" stroke-width="0.7" fill="none"/>
<path d="M312.6,641.7 l2.2,2.2 l-2.2,2.2" stroke="#a29e80" stroke-width="0.7" fill="none"/>
<path d="M316.8,641.1 l2.2,2.2 l-2.2,2.2" stroke="#a29e80" stroke-width="0.7" fill="none"/>
<path d="M321.0,640.6 l2.2,2.2 l-2.2,2.2" stroke="#a29e80" stroke-width="0.7" fill="none"/>
<path d="M325.2,640.1 l2.2,2.2 l-2.2,2.2" stroke="#a29e80" stroke-width="0.7" fill="none"/>
<path d="M329.4,639.6 l2.2,2.2 l-2.2,2.2" stroke="#a29e80" stroke-width="0.7" fill="none"/>
<path d="M333.6,639.1 l2.2,2.2 l-2.2,2.2" stroke="#a29e80" stroke-width="0.7" fill="none"/>
<path d="M337.8,638.5 l2.2,2.2 l-2.2,2.2" stroke="#a29e80" stroke-width="0.7" fill="none"/>
<path d="M342.0,638.0 l2.2,2.2 l-2.2,2.2" stroke="#a29e80" stroke-width="0.7" fill="none"/>
<path d="M346.2,637.5 l2.2,2.2 l-2.2,2.2" stroke="#a29e80" stroke-width="0.7" fill="none"/>
<path d="M350.4,637.0 l2.2,2.2 l-2.2,2.2" stroke="#a29e80" stroke-width="0.7" fill="none"/>
<path d="M354.6,636.5 l2.2,2.2 l-2.2,2.2" stroke="#a29e80" stroke-width="0.7" fill="none"/>
<path d="M358.8,636.0 l2.2,2.2 l-2.2,2.2" stroke="#a29e80" stroke-width="0.7" fill="none"/>
<path d="M363.0,635.4 l2.2,2.2 l-2.2,2.2" stroke="#a29e80" stroke-width="0.7" fill="none"/>
<path d="M367.2,634.9 l2.2,2.2 l-2.2,2.2" stroke="#a29e80" stroke-width="0.7" fill="none"/>
<path d="M371.4,634.4 l2.2,2.2 l-2.2,2.2" stroke="#a29e80" stroke-width="0.7" fill="none"/>
<path d="M375.6,633.9 l2.2,2.2 l-2.2,2.2" stroke="#a29e80" stroke-width="0.7" fill="none"/>
<path d="M379.8,633.4 l2.2,2.2 l-2.2,2.2" stroke="#a29e80" stroke-width="0.7" fill="none"/>
<path d="M384.0,632.8 l2.2,2.2 l-2.2,2.2" stroke="#a29e80" stroke-width="0.7" fill="none"/>
<path d="M388.2,632.3 l2.2,2.2 l-2.2,2.2" stroke="#a29e80" stroke-width="0.7" fill="none"/>
<path d="M392.4,631.8 l2.2,2.2 l-2.2,2.2" stroke="#a29e80" stroke-width="0.7" fill="none"/>
<path d="M396.6,631.3 l2.2,2.2 l-2.2,2.2" stroke="#a29e80" stroke-width="0.7" fill="none"/>
<path d="M400.8,630.8 l2.2,2.2 l-2.2,2.2" stroke="#a29e80" stroke-width="0.7" fill="none"/>
<path d="M405.0,630.2 l2.2,2.2 l-2.2,2.2" stroke="#a29e80" stroke-width="0.7" fill="none"/>
<path d="M409.2,629.7 l2.2,2.2 l-2.2,2.2" stroke="#a29e80" stroke-width="0.7" fill="none"/>
<path d="M413.4,629.2 l2.2,2.2 l-2.2,2.2" stroke="#a29e80" stroke-width="0.7" fill="none"/>
<path d="M417.6,628.7 l2.2,2.2 l-2.2,2.2" stroke="#a29e80" stroke-width="0.7" fill="none"/>
<path d="M421.8,628.2 l2.2,2.2 l-2.2,2.2" stroke="#a29e80" stroke-width="0.7" fill="none"/>
<path d="M426.0,627.7 l2.2,2.2 l-2.2,2.2" stroke="#a29e80" stroke-width="0.7" fill="none"/>
<path d="M430.2,627.1 l2.2,2.2 l-2.2,2.2" stroke="#a29e80" stroke-width="0.7" fill="none"/>
<path d="M434.4,626.6 l2.2,2.2 l-2.2,2.2" stroke="#a29e80" stroke-width="0.7" fill="none"/>
<path d="M438.6,626.1 l2.2,2.2 l-2.2,2.2" stroke="#a29e80" stroke-width="0.7" fill="none"/>
<path d="M360,656 L390,648 L420,640.5 L446,632.5" stroke="#3e3a28" stroke-width="0.9" fill="none"/>
<path d="M240,655.5 C252,653 262,655 268,660" stroke="#5a5238" stroke-width="0.8" fill="none"/>
<path d="M223,676 C232,680 246,680 256,677" stroke="#5a5238" stroke-width="0.8" fill="none"/>
<ellipse cx="254" cy="664" rx="6" ry="4" fill="none" stroke="#7a7458" stroke-width="0.7"/>
<path d="M258.9,667.4 C260,661 264,659.5 270,659 C300,657 330,655 357.1,653.6 L359.7,655.9 C345,658 337,661 320,666 C305,672 296,680 285,682 C275,683 266,682 263.8,680.4 C259,677 258,672 258.9,667.4 Z" fill="#c9c3a3" stroke="#2a7fd0" stroke-width="1.3"/>
<circle cx="272" cy="668" r="0.9" fill="#6a6040"/>
<circle cx="283" cy="664" r="0.9" fill="#6a6040"/>
<circle cx="296" cy="670" r="0.9" fill="#6a6040"/>
<circle cx="305" cy="662" r="0.9" fill="#6a6040"/>
<circle cx="318" cy="663" r="0.9" fill="#6a6040"/>
<circle cx="288" cy="676" r="0.9" fill="#6a6040"/>
<circle cx="276" cy="676" r="0.9" fill="#6a6040"/>
<circle cx="268" cy="672" r="0.9" fill="#6a6040"/>
<circle cx="292" cy="662" r="0.9" fill="#6a6040"/>
<circle cx="312" cy="668" r="0.9" fill="#6a6040"/>
<circle cx="330" cy="660" r="0.9" fill="#6a6040"/>
<circle cx="344" cy="657" r="0.9" fill="#6a6040"/>
<circle cx="280" cy="671" r="0.9" fill="#6a6040"/>
<circle cx="300" cy="675" r="0.9" fill="#6a6040"/>
<path d="M258.8,668.5 C255,671 251,675 248.6,677.9 C250,680 251.5,681.5 253,681.5 L263.2,681.5" fill="#d0b4a0" stroke="#2aa02a" stroke-width="1.2"/>
<ellipse cx="232.6" cy="668.5" rx="10.9" ry="7.3" fill="#1e140c" stroke="#4a4028" stroke-width="0.8"/>
<ellipse cx="229" cy="666" rx="3" ry="1.8" fill="#3a2a1e"/>
<polyline points="214.70,660.80 214.70,654.90 446.80,621.30 446.80,628.80" fill="none" stroke="#e82020" stroke-width="1.3" stroke-linejoin="round"/>
<line x1="317.10" y1="639.80" x2="317.10" y2="634.00" stroke="#e82020" stroke-width="1.3" />
<text x="313.90" y="631.80" style="font-family:'Liberation Sans',Arial,sans-serif;font-size:8px;font-weight:bold" text-anchor="middle" fill="#222" stroke="#222" stroke-width="0.35" >x</text>
<text x="321.70" y="675.00" style="font-family:'Liberation Sans',Arial,sans-serif;font-size:8px;font-weight:bold" text-anchor="middle" fill="#222" stroke="#222" stroke-width="0.35" >Y</text>
<text x="247.40" y="686.60" style="font-family:'Liberation Sans',Arial,sans-serif;font-size:8px;font-weight:bold" text-anchor="middle" fill="#222" stroke="#222" stroke-width="0.35" >Z</text>
<text x="404.90" y="667.90" style="font-family:'Liberation Sans',Arial,sans-serif;font-size:6.9px;font-weight:bold" text-anchor="start" fill="#111" stroke="#111" stroke-width="0.1" textLength="64.5" lengthAdjust="spacingAndGlyphs" >x - Total body length</text>
<text x="404.90" y="676.80" style="font-family:'Liberation Sans',Arial,sans-serif;font-size:6.9px;font-weight:bold" text-anchor="start" fill="#111" stroke="#111" stroke-width="0.1" textLength="69.0" lengthAdjust="spacingAndGlyphs" >Y - &#160;Total yolk sac area</text>
<text x="404.90" y="685.00" style="font-family:'Liberation Sans',Arial,sans-serif;font-size:6.9px;font-weight:bold" text-anchor="start" fill="#111" stroke="#111" stroke-width="0.1" textLength="64.0" lengthAdjust="spacingAndGlyphs" >Z - Total cardiac area</text>
<text x="131.00" y="720.20" style="font-family:'Liberation Sans',Arial,sans-serif;font-size:11.5px;font-weight:bold" text-anchor="start" fill="#1a1a1a" stroke="#1a1a1a" stroke-width="0.35" >h</text>
<line x1="154.90" y1="734.50" x2="154.90" y2="809.60" stroke="#808080" stroke-width="0.9" />
<line x1="154.90" y1="809.60" x2="232.50" y2="809.60" stroke="#808080" stroke-width="0.9" />
<line x1="152.40" y1="809.60" x2="154.90" y2="809.60" stroke="#808080" stroke-width="0.9" />
<text x="151.30" y="811.80" style="font-family:'Liberation Sans',Arial,sans-serif;font-size:6.2px;font-weight:bold" text-anchor="end" fill="#1a1a1a" stroke="#1a1a1a" stroke-width="0.15" >3200</text>
<line x1="152.40" y1="794.68" x2="154.90" y2="794.68" stroke="#808080" stroke-width="0.9" />
<text x="151.30" y="796.88" style="font-family:'Liberation Sans',Arial,sans-serif;font-size:6.2px;font-weight:bold" text-anchor="end" fill="#1a1a1a" stroke="#1a1a1a" stroke-width="0.15" >3300</text>
<line x1="152.40" y1="779.76" x2="154.90" y2="779.76" stroke="#808080" stroke-width="0.9" />
<text x="151.30" y="781.96" style="font-family:'Liberation Sans',Arial,sans-serif;font-size:6.2px;font-weight:bold" text-anchor="end" fill="#1a1a1a" stroke="#1a1a1a" stroke-width="0.15" >3400</text>
<line x1="152.40" y1="764.84" x2="154.90" y2="764.84" stroke="#808080" stroke-width="0.9" />
<text x="151.30" y="767.04" style="font-family:'Liberation Sans',Arial,sans-serif;font-size:6.2px;font-weight:bold" text-anchor="end" fill="#1a1a1a" stroke="#1a1a1a" stroke-width="0.15" >3500</text>
<line x1="152.40" y1="749.92" x2="154.90" y2="749.92" stroke="#808080" stroke-width="0.9" />
<text x="151.30" y="752.12" style="font-family:'Liberation Sans',Arial,sans-serif;font-size:6.2px;font-weight:bold" text-anchor="end" fill="#1a1a1a" stroke="#1a1a1a" stroke-width="0.15" >3600</text>
<line x1="152.40" y1="735.00" x2="154.90" y2="735.00" stroke="#808080" stroke-width="0.9" />
<text x="151.30" y="737.20" style="font-family:'Liberation Sans',Arial,sans-serif;font-size:6.2px;font-weight:bold" text-anchor="end" fill="#1a1a1a" stroke="#1a1a1a" stroke-width="0.15" >3700</text>
<line x1="171.00" y1="809.60" x2="171.00" y2="812.10" stroke="#808080" stroke-width="0.9" />
<text x="171.00" y="819.00" style="font-family:'Liberation Sans',Arial,sans-serif;font-size:6.8px;font-weight:bold" text-anchor="middle" fill="#1a1a1a" stroke="#1a1a1a" stroke-width="0.35" >0</text>
<line x1="194.20" y1="809.60" x2="194.20" y2="812.10" stroke="#808080" stroke-width="0.9" />
<text x="194.20" y="819.00" style="font-family:'Liberation Sans',Arial,sans-serif;font-size:6.8px;font-weight:bold" text-anchor="middle" fill="#1a1a1a" stroke="#1a1a1a" stroke-width="0.35" >200</text>
<line x1="217.80" y1="809.60" x2="217.80" y2="812.10" stroke="#808080" stroke-width="0.9" />
<text x="217.80" y="819.00" style="font-family:'Liberation Sans',Arial,sans-serif;font-size:6.8px;font-weight:bold" text-anchor="middle" fill="#1a1a1a" stroke="#1a1a1a" stroke-width="0.35" >400</text>
<text x="195.00" y="831.00" style="font-family:'Liberation Sans',Arial,sans-serif;font-size:7.4px;font-weight:bold" text-anchor="middle" fill="#1a1a1a" stroke="#1a1a1a" stroke-width="0.35" textLength="91" lengthAdjust="spacingAndGlyphs" >PM concentration (&#956;g/ml)</text>
<text x="134.04" y="771.00" transform="rotate(-90 134.04 771.00)" style="font-family:'Liberation Sans',Arial,sans-serif;font-size:7.6px;font-weight:bold" text-anchor="middle" fill="#1a1a1a" stroke="#1a1a1a" stroke-width="0.35" textLength="77" lengthAdjust="spacingAndGlyphs">Total body length (&#956;m)</text>
<line x1="171.00" y1="749.92" x2="171.00" y2="781.25" stroke="#999" stroke-width="0.9" />
<line x1="169.40" y1="749.92" x2="172.60" y2="749.92" stroke="#999" stroke-width="0.9" />
<line x1="169.40" y1="781.25" x2="172.60" y2="781.25" stroke="#999" stroke-width="0.9" />
<line x1="194.20" y1="759.92" x2="194.20" y2="800.35" stroke="#999" stroke-width="0.9" />
<line x1="192.60" y1="759.92" x2="195.80" y2="759.92" stroke="#999" stroke-width="0.9" />
<line x1="192.60" y1="800.35" x2="195.80" y2="800.35" stroke="#999" stroke-width="0.9" />
<line x1="217.80" y1="759.32" x2="217.80" y2="792.44" stroke="#999" stroke-width="0.9" />
<line x1="216.20" y1="759.32" x2="219.40" y2="759.32" stroke="#999" stroke-width="0.9" />
<line x1="216.20" y1="792.44" x2="219.40" y2="792.44" stroke="#999" stroke-width="0.9" />
<circle cx="170.8" cy="765.6" r="1.9" fill="#000"/>
<rect x="192.1" y="778.1" width="4.2" height="4.2" fill="#22cc22"/>
<path d="M217.8,774.2 L220.4,778.6 L215.2,778.6 Z" fill="#ff1a1a"/>
<line x1="171.00" y1="741.90" x2="193.90" y2="741.90" stroke="#999" stroke-width="0.9" />
<line x1="171.00" y1="731.00" x2="216.80" y2="731.00" stroke="#999" stroke-width="0.9" />
<text x="178.35" y="742.45" style="font-family:'Liberation Sans',Arial,sans-serif;font-size:9.5px;font-weight:bold;letter-spacing:0.90px" fill="#1a1a1a" stroke="#1a1a1a" stroke-width="0.7" stroke-linejoin="round">**</text>
<text x="194.00" y="727.60" style="font-family:'Liberation Sans',Arial,sans-serif;font-size:5.6px;font-weight:normal" text-anchor="middle" fill="#333" >ns</text>
<text x="275.00" y="721.60" style="font-family:'Liberation Sans',Arial,sans-serif;font-size:11.5px;font-weight:bold" text-anchor="start" fill="#1a1a1a" stroke="#1a1a1a" stroke-width="0.35" >i</text>
<line x1="298.60" y1="734.40" x2="298.60" y2="809.90" stroke="#808080" stroke-width="0.9" />
<line x1="298.60" y1="809.90" x2="380.40" y2="809.90" stroke="#808080" stroke-width="0.9" />
<line x1="296.10" y1="809.90" x2="298.60" y2="809.90" stroke="#808080" stroke-width="0.9" />
<text x="294.50" y="812.20" style="font-family:'Liberation Sans',Arial,sans-serif;font-size:6.3px;font-weight:bold" text-anchor="end" fill="#1a1a1a" stroke="#1a1a1a" stroke-width="0.15" >0.0</text>
<line x1="296.10" y1="791.15" x2="298.60" y2="791.15" stroke="#808080" stroke-width="0.9" />
<text x="294.50" y="793.45" style="font-family:'Liberation Sans',Arial,sans-serif;font-size:6.3px;font-weight:bold" text-anchor="end" fill="#1a1a1a" stroke="#1a1a1a" stroke-width="0.15" >0.1</text>
<line x1="296.10" y1="772.40" x2="298.60" y2="772.40" stroke="#808080" stroke-width="0.9" />
<text x="294.50" y="774.70" style="font-family:'Liberation Sans',Arial,sans-serif;font-size:6.3px;font-weight:bold" text-anchor="end" fill="#1a1a1a" stroke="#1a1a1a" stroke-width="0.15" >0.2</text>
<line x1="296.10" y1="753.65" x2="298.60" y2="753.65" stroke="#808080" stroke-width="0.9" />
<text x="294.50" y="755.95" style="font-family:'Liberation Sans',Arial,sans-serif;font-size:6.3px;font-weight:bold" text-anchor="end" fill="#1a1a1a" stroke="#1a1a1a" stroke-width="0.15" >0.3</text>
<line x1="296.10" y1="734.90" x2="298.60" y2="734.90" stroke="#808080" stroke-width="0.9" />
<text x="294.50" y="737.20" style="font-family:'Liberation Sans',Arial,sans-serif;font-size:6.3px;font-weight:bold" text-anchor="end" fill="#1a1a1a" stroke="#1a1a1a" stroke-width="0.15" >0.4</text>
<line x1="313.65" y1="756.46" x2="313.65" y2="748.40" stroke="#888" stroke-width="0.9" />
<line x1="309.15" y1="748.40" x2="318.15" y2="748.40" stroke="#888" stroke-width="0.9" />
<rect x="305.50" y="756.46" width="16.30" height="53.44" fill="#000" stroke="#555" stroke-width="0.5" />
<line x1="313.65" y1="809.90" x2="313.65" y2="812.40" stroke="#808080" stroke-width="0.9" />
<line x1="339.10" y1="756.84" x2="339.10" y2="752.71" stroke="#888" stroke-width="0.9" />
<line x1="334.60" y1="752.71" x2="343.60" y2="752.71" stroke="#888" stroke-width="0.9" />
<rect x="330.50" y="756.84" width="17.20" height="53.06" fill="#00c800" stroke="#555" stroke-width="0.5" />
<line x1="339.10" y1="809.90" x2="339.10" y2="812.40" stroke="#808080" stroke-width="0.9" />
<line x1="364.65" y1="748.40" x2="364.65" y2="739.40" stroke="#888" stroke-width="0.9" />
<line x1="360.15" y1="739.40" x2="369.15" y2="739.40" stroke="#888" stroke-width="0.9" />
<rect x="356.20" y="748.40" width="16.90" height="61.50" fill="#ff0000" stroke="#555" stroke-width="0.5" />
<line x1="364.65" y1="809.90" x2="364.65" y2="812.40" stroke="#808080" stroke-width="0.9" />
<text x="313.60" y="819.60" style="font-family:'Liberation Sans',Arial,sans-serif;font-size:6.8px;font-weight:bold" text-anchor="middle" fill="#1a1a1a" stroke="#1a1a1a" stroke-width="0.35" >0</text>
<text x="339.00" y="819.60" style="font-family:'Liberation Sans',Arial,sans-serif;font-size:6.8px;font-weight:bold" text-anchor="middle" fill="#1a1a1a" stroke="#1a1a1a" stroke-width="0.35" >200</text>
<text x="364.00" y="819.60" style="font-family:'Liberation Sans',Arial,sans-serif;font-size:6.8px;font-weight:bold" text-anchor="middle" fill="#1a1a1a" stroke="#1a1a1a" stroke-width="0.35" >400</text>
<text x="339.00" y="831.00" style="font-family:'Liberation Sans',Arial,sans-serif;font-size:7.4px;font-weight:bold" text-anchor="middle" fill="#1a1a1a" stroke="#1a1a1a" stroke-width="0.35" textLength="91" lengthAdjust="spacingAndGlyphs" >PM concentration (&#956;g/ml)</text>
<text x="281.24" y="772.00" transform="rotate(-90 281.24 772.00)" style="font-family:'Liberation Sans',Arial,sans-serif;font-size:7.6px;font-weight:bold" text-anchor="middle" fill="#1a1a1a" stroke="#1a1a1a" stroke-width="0.35" textLength="84" lengthAdjust="spacingAndGlyphs">Total yolk sac area (mm<tspan dy="-2.5" style="font-size:5px">2</tspan><tspan dy="2.5">)</tspan></text>
<line x1="313.00" y1="736.50" x2="337.40" y2="736.50" stroke="#999" stroke-width="0.9" />
<text x="325.20" y="733.90" style="font-family:'Liberation Sans',Arial,sans-serif;font-size:5.6px;font-weight:normal" text-anchor="middle" fill="#333" >ns</text>
<line x1="313.00" y1="723.20" x2="364.00" y2="723.20" stroke="#999" stroke-width="0.9" />
<text x="336.75" y="723.59" style="font-family:'Liberation Sans',Arial,sans-serif;font-size:9px;font-weight:bold;letter-spacing:1.00px" fill="#1a1a1a" stroke="#1a1a1a" stroke-width="0.7" stroke-linejoin="round">*</text>
<text x="424.00" y="723.00" style="font-family:'Liberation Sans',Arial,sans-serif;font-size:11.5px;font-weight:bold" text-anchor="start" fill="#1a1a1a" stroke="#1a1a1a" stroke-width="0.35" >j</text>
<line x1="449.50" y1="733.90" x2="449.50" y2="808.90" stroke="#808080" stroke-width="0.9" />
<line x1="449.50" y1="808.90" x2="537.30" y2="808.90" stroke="#808080" stroke-width="0.9" />
<line x1="447.00" y1="808.90" x2="449.50" y2="808.90" stroke="#808080" stroke-width="0.9" />
<text x="445.80" y="811.20" style="font-family:'Liberation Sans',Arial,sans-serif;font-size:6.3px;font-weight:bold" text-anchor="end" fill="#1a1a1a" stroke="#1a1a1a" stroke-width="0.15" >0.00</text>
<line x1="447.00" y1="790.27" x2="449.50" y2="790.27" stroke="#808080" stroke-width="0.9" />
<text x="445.80" y="792.57" style="font-family:'Liberation Sans',Arial,sans-serif;font-size:6.3px;font-weight:bold" text-anchor="end" fill="#1a1a1a" stroke="#1a1a1a" stroke-width="0.15" >0.05</text>
<line x1="447.00" y1="771.65" x2="449.50" y2="771.65" stroke="#808080" stroke-width="0.9" />
<text x="445.80" y="773.95" style="font-family:'Liberation Sans',Arial,sans-serif;font-size:6.3px;font-weight:bold" text-anchor="end" fill="#1a1a1a" stroke="#1a1a1a" stroke-width="0.15" >0.10</text>
<line x1="447.00" y1="753.02" x2="449.50" y2="753.02" stroke="#808080" stroke-width="0.9" />
<text x="445.80" y="755.32" style="font-family:'Liberation Sans',Arial,sans-serif;font-size:6.3px;font-weight:bold" text-anchor="end" fill="#1a1a1a" stroke="#1a1a1a" stroke-width="0.15" >0.15</text>
<line x1="447.00" y1="734.40" x2="449.50" y2="734.40" stroke="#808080" stroke-width="0.9" />
<text x="445.80" y="736.70" style="font-family:'Liberation Sans',Arial,sans-serif;font-size:6.3px;font-weight:bold" text-anchor="end" fill="#1a1a1a" stroke="#1a1a1a" stroke-width="0.15" >0.20</text>
<line x1="467.30" y1="797.35" x2="467.30" y2="794.75" stroke="#888" stroke-width="0.9" />
<line x1="462.80" y1="794.75" x2="471.80" y2="794.75" stroke="#888" stroke-width="0.9" />
<rect x="458.40" y="797.35" width="17.80" height="11.55" fill="#000" stroke="#555" stroke-width="0.5" />
<line x1="467.30" y1="808.90" x2="467.30" y2="811.40" stroke="#808080" stroke-width="0.9" />
<line x1="494.25" y1="785.80" x2="494.25" y2="770.53" stroke="#888" stroke-width="0.9" />
<line x1="489.75" y1="770.53" x2="498.75" y2="770.53" stroke="#888" stroke-width="0.9" />
<rect x="485.60" y="785.80" width="17.30" height="23.10" fill="#00c800" stroke="#555" stroke-width="0.5" />
<line x1="494.25" y1="808.90" x2="494.25" y2="811.40" stroke="#808080" stroke-width="0.9" />
<line x1="520.95" y1="760.48" x2="520.95" y2="749.67" stroke="#888" stroke-width="0.9" />
<line x1="516.45" y1="749.67" x2="525.45" y2="749.67" stroke="#888" stroke-width="0.9" />
<rect x="512.30" y="760.48" width="17.30" height="48.42" fill="#ff0000" stroke="#555" stroke-width="0.5" />
<line x1="520.95" y1="808.90" x2="520.95" y2="811.40" stroke="#808080" stroke-width="0.9" />
<text x="467.30" y="818.40" style="font-family:'Liberation Sans',Arial,sans-serif;font-size:6.8px;font-weight:bold" text-anchor="middle" fill="#1a1a1a" stroke="#1a1a1a" stroke-width="0.35" >0</text>
<text x="494.00" y="818.40" style="font-family:'Liberation Sans',Arial,sans-serif;font-size:6.8px;font-weight:bold" text-anchor="middle" fill="#1a1a1a" stroke="#1a1a1a" stroke-width="0.35" >200</text>
<text x="521.20" y="818.40" style="font-family:'Liberation Sans',Arial,sans-serif;font-size:6.8px;font-weight:bold" text-anchor="middle" fill="#1a1a1a" stroke="#1a1a1a" stroke-width="0.35" >400</text>
<text x="494.00" y="830.20" style="font-family:'Liberation Sans',Arial,sans-serif;font-size:7.4px;font-weight:bold" text-anchor="middle" fill="#1a1a1a" stroke="#1a1a1a" stroke-width="0.35" textLength="91" lengthAdjust="spacingAndGlyphs" >PM concentration (&#956;g/ml)</text>
<text x="429.64" y="770.80" transform="rotate(-90 429.64 770.80)" style="font-family:'Liberation Sans',Arial,sans-serif;font-size:7.6px;font-weight:bold" text-anchor="middle" fill="#1a1a1a" stroke="#1a1a1a" stroke-width="0.35" textLength="84" lengthAdjust="spacingAndGlyphs">Total cardiac area (mm<tspan dy="-2.5" style="font-size:5px">2</tspan><tspan dy="2.5">)</tspan></text>
<line x1="467.30" y1="762.40" x2="494.00" y2="762.40" stroke="#999" stroke-width="0.9" />
<text x="478.90" y="762.79" style="font-family:'Liberation Sans',Arial,sans-serif;font-size:9px;font-weight:bold;letter-spacing:1.00px" fill="#1a1a1a" stroke="#1a1a1a" stroke-width="0.7" stroke-linejoin="round">*</text>
<line x1="467.30" y1="740.20" x2="520.70" y2="740.20" stroke="#999" stroke-width="0.9" />
<text x="487.75" y="740.59" style="font-family:'Liberation Sans',Arial,sans-serif;font-size:9px;font-weight:bold;letter-spacing:1.00px" fill="#1a1a1a" stroke="#1a1a1a" stroke-width="0.7" stroke-linejoin="round">***</text>
</svg>
</body></html>
